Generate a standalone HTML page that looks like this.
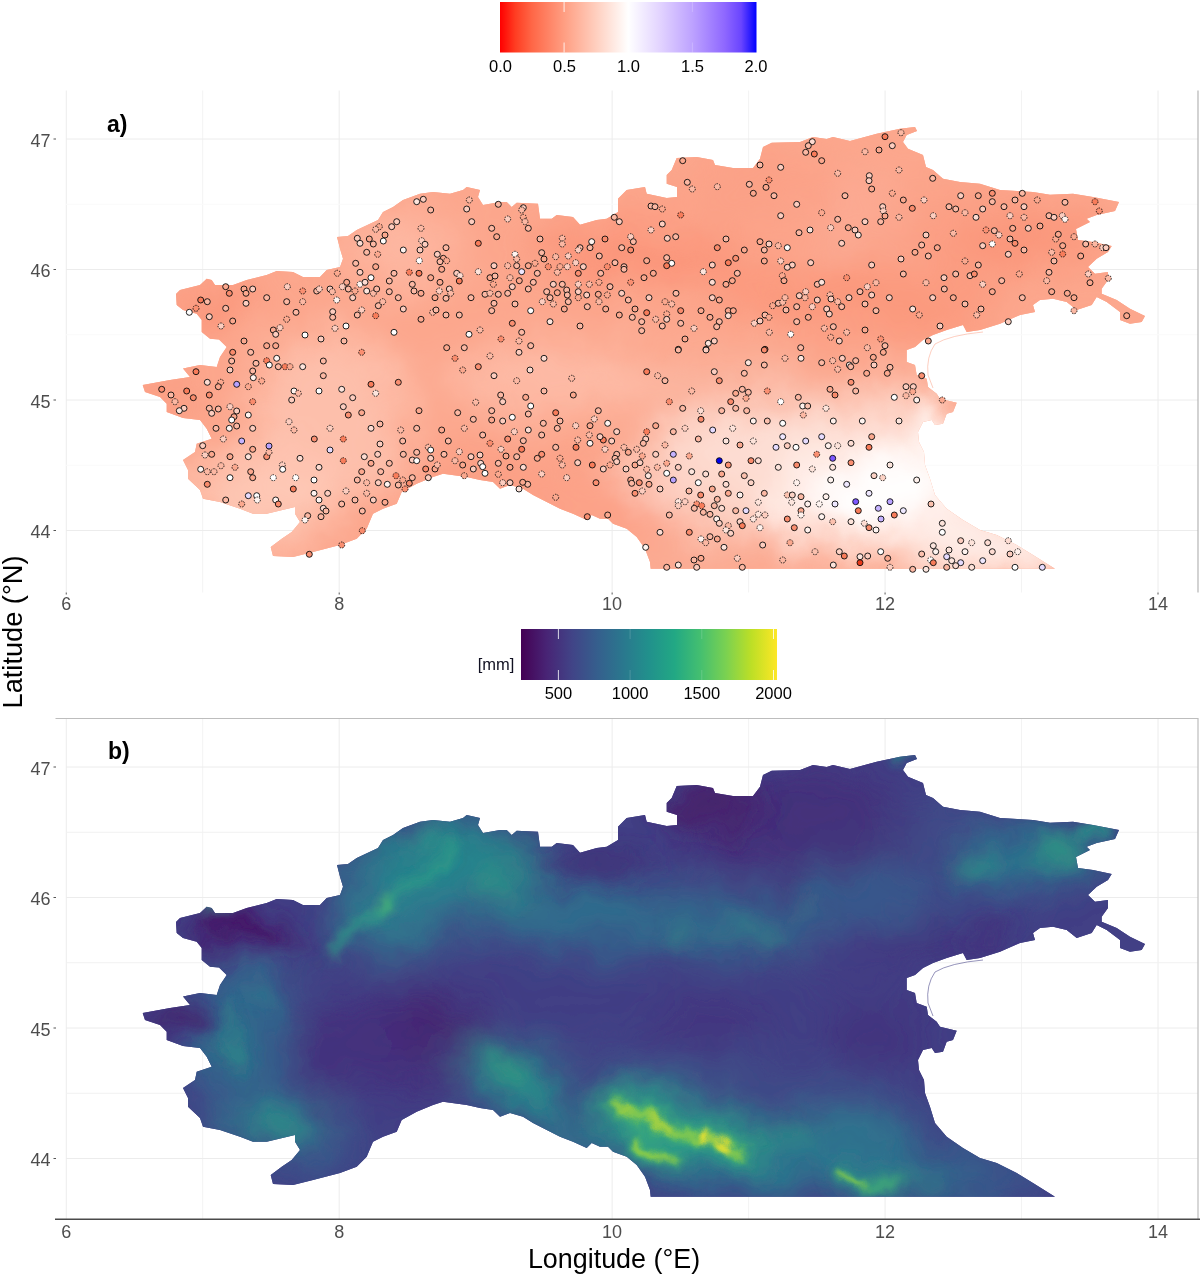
<!DOCTYPE html>
<html lang="en"><head><meta charset="utf-8"><title>Figure</title>
<style>html,body{margin:0;padding:0;background:#fff}svg{display:block}text{font-family:"Liberation Sans",Arial,sans-serif}</style></head><body>
<svg width="1200" height="1274" viewBox="0 0 1200 1274">
<defs>
<linearGradient id="gA" x1="0" x2="1" y1="0" y2="0"><stop offset="0" stop-color="#ff0000"/><stop offset="0.06" stop-color="#ff3d22"/><stop offset="0.125" stop-color="#ff6747"/><stop offset="0.25" stop-color="#ff9e82"/><stop offset="0.375" stop-color="#ffcfbf"/><stop offset="0.5" stop-color="#ffffff"/><stop offset="0.625" stop-color="#e2d3ff"/><stop offset="0.75" stop-color="#bda2ff"/><stop offset="0.875" stop-color="#8f68ff"/><stop offset="0.94" stop-color="#6a45ff"/><stop offset="1" stop-color="#0000ff"/></linearGradient>
<linearGradient id="gB" x1="0" x2="1" y1="0" y2="0"><stop offset="0.0" stop-color="#440154"/><stop offset="0.1" stop-color="#482475"/><stop offset="0.2" stop-color="#414487"/><stop offset="0.3" stop-color="#355f8d"/><stop offset="0.4" stop-color="#2a788e"/><stop offset="0.5" stop-color="#21918c"/><stop offset="0.6" stop-color="#22a884"/><stop offset="0.7" stop-color="#44bf70"/><stop offset="0.8" stop-color="#7ad151"/><stop offset="0.9" stop-color="#bddf26"/><stop offset="1.0" stop-color="#fde725"/></linearGradient>
<clipPath id="cA"><polygon points="176.0,294.0 180.0,290.0 200.0,285.0 206.7,278.7 211.7,280.0 215.0,285.0 233.0,285.0 246.7,280.0 266.7,275.0 276.7,271.0 293.0,272.0 303.0,277.0 320.0,277.0 326.7,270.0 340.0,267.0 343.0,258.7 340.0,248.7 337.0,237.0 348.0,236.0 356.7,230.0 378.0,220.0 383.0,212.0 393.0,207.0 403.0,200.0 420.0,193.7 433.0,192.0 450.0,193.7 463.0,190.0 466.7,187.0 480.0,190.0 478.0,197.0 483.0,205.0 500.0,202.0 506.7,202.0 511.7,207.0 516.7,202.7 538.0,203.7 540.0,218.7 551.7,218.7 556.7,215.0 573.0,217.0 580.0,224.7 596.7,220.0 606.7,218.7 618.0,212.0 618.0,198.7 626.7,190.0 645.0,187.0 646.7,193.7 666.7,198.0 677.0,197.0 677.0,187.0 666.7,183.7 666.7,175.0 671.7,170.0 676.7,158.0 696.7,157.0 713.0,160.0 715.0,165.0 733.0,168.0 753.0,168.0 760.0,158.7 763.0,147.0 771.7,142.7 800.0,142.0 813.0,137.0 826.7,139.0 833.0,137.0 850.0,141.0 876.7,133.7 900.0,128.7 915.0,127.0 917.0,131.0 906.7,135.0 903.0,142.0 908.0,148.7 923.0,155.0 926.0,167.0 933.0,170.0 943.0,178.7 960.0,182.0 980.0,183.7 1000.0,190.0 1033.0,192.0 1050.0,194.7 1073.0,193.7 1093.0,197.0 1119.0,202.0 1115.0,211.0 1096.7,215.0 1086.7,218.7 1090.0,222.0 1076.0,229.0 1078.0,240.0 1093.0,242.0 1111.7,246.0 1108.0,252.0 1096.7,258.7 1088.0,267.0 1095.0,273.7 1108.0,272.0 1108.0,280.0 1101.7,288.7 1101.7,293.7 1116.7,300.0 1130.0,308.7 1145.0,316.0 1141.7,322.0 1130.0,323.7 1120.0,320.0 1120.0,312.0 1106.7,302.0 1096.7,297.0 1091.7,305.0 1076.7,310.0 1066.7,302.0 1053.0,298.7 1040.0,300.0 1033.0,305.0 1035.0,312.0 1020.0,315.0 1000.0,323.7 980.0,330.0 966.7,332.0 963.0,325.0 946.7,330.0 933.0,335.0 923.0,340.0 915.0,347.0 906.7,350.0 906.7,362.0 915.0,365.0 916.7,375.0 926.7,378.7 928.0,387.0 936.7,393.7 940.0,398.7 956.7,402.7 953.0,412.0 946.7,413.7 943.0,423.7 935.0,425.0 931.7,420.0 923.0,422.0 918.0,432.0 919.0,442.0 924.0,452.0 925.0,465.0 930.0,478.7 935.0,495.0 946.7,508.7 963.0,520.0 980.0,530.0 996.7,535.0 1016.7,545.0 1033.0,555.0 1055.0,568.7 650.7,568.7 650.0,562.0 645.0,548.7 636.7,537.0 626.7,528.7 613.0,523.7 608.0,518.7 600.0,518.7 591.7,515.0 586.7,520.0 573.0,513.7 560.0,508.7 546.7,502.0 533.0,495.0 523.0,488.7 510.0,485.0 500.0,488.7 493.0,482.0 480.0,480.0 466.7,477.0 443.0,473.7 433.0,477.0 416.7,483.7 401.7,492.0 396.7,503.7 383.0,508.7 373.0,513.7 366.7,528.7 356.7,538.7 340.0,545.0 313.0,552.0 293.0,557.0 273.0,556.0 270.7,547.0 281.7,538.7 291.7,532.0 300.0,522.0 295.0,513.7 295.0,507.0 266.7,513.7 253.0,513.7 240.0,508.7 220.0,502.0 203.0,498.7 200.0,490.0 188.0,478.7 188.0,470.0 183.0,460.0 195.0,452.0 196.7,443.7 211.7,438.7 206.7,428.7 200.0,420.0 183.0,418.0 166.7,412.0 166.7,403.7 160.0,397.0 145.0,392.0 142.7,385.0 170.0,380.0 190.0,377.0 183.0,368.5 200.0,365.0 216.7,367.0 220.0,357.0 226.7,347.0 219.0,339.5 210.0,338.7 201.7,332.0 201.7,320.0 196.7,313.7 183.0,310.0 176.7,305.0"/></clipPath>
<clipPath id="cB"><polygon points="176.0,922.0 180.0,918.0 200.0,913.0 206.7,906.7 211.7,908.0 215.0,913.0 233.0,913.0 246.7,908.0 266.7,903.0 276.7,899.0 293.0,900.0 303.0,905.0 320.0,905.0 326.7,898.0 340.0,895.0 343.0,886.7 340.0,876.7 337.0,865.0 348.0,864.0 356.7,858.0 378.0,848.0 383.0,840.0 393.0,835.0 403.0,828.0 420.0,821.7 433.0,820.0 450.0,821.7 463.0,818.0 466.7,815.0 480.0,818.0 478.0,825.0 483.0,833.0 500.0,830.0 506.7,830.0 511.7,835.0 516.7,830.7 538.0,831.7 540.0,846.7 551.7,846.7 556.7,843.0 573.0,845.0 580.0,852.7 596.7,848.0 606.7,846.7 618.0,840.0 618.0,826.7 626.7,818.0 645.0,815.0 646.7,821.7 666.7,826.0 677.0,825.0 677.0,815.0 666.7,811.7 666.7,803.0 671.7,798.0 676.7,786.0 696.7,785.0 713.0,788.0 715.0,793.0 733.0,796.0 753.0,796.0 760.0,786.7 763.0,775.0 771.7,770.7 800.0,770.0 813.0,765.0 826.7,767.0 833.0,765.0 850.0,769.0 876.7,761.7 900.0,756.7 915.0,755.0 917.0,759.0 906.7,763.0 903.0,770.0 908.0,776.7 923.0,783.0 926.0,795.0 933.0,798.0 943.0,806.7 960.0,810.0 980.0,811.7 1000.0,818.0 1033.0,820.0 1050.0,822.7 1073.0,821.7 1093.0,825.0 1119.0,830.0 1115.0,839.0 1096.7,843.0 1086.7,846.7 1090.0,850.0 1076.0,857.0 1078.0,868.0 1093.0,870.0 1111.7,874.0 1108.0,880.0 1096.7,886.7 1088.0,895.0 1095.0,901.7 1108.0,900.0 1108.0,908.0 1101.7,916.7 1101.7,921.7 1116.7,928.0 1130.0,936.7 1145.0,944.0 1141.7,950.0 1130.0,951.7 1120.0,948.0 1120.0,940.0 1106.7,930.0 1096.7,925.0 1091.7,933.0 1076.7,938.0 1066.7,930.0 1053.0,926.7 1040.0,928.0 1033.0,933.0 1035.0,940.0 1020.0,943.0 1000.0,951.7 980.0,958.0 966.7,960.0 963.0,953.0 946.7,958.0 933.0,963.0 923.0,968.0 915.0,975.0 906.7,978.0 906.7,990.0 915.0,993.0 916.7,1003.0 926.7,1006.7 928.0,1015.0 936.7,1021.7 940.0,1026.7 956.7,1030.7 953.0,1040.0 946.7,1041.7 943.0,1051.7 935.0,1053.0 931.7,1048.0 923.0,1050.0 918.0,1060.0 919.0,1070.0 924.0,1080.0 925.0,1093.0 930.0,1106.7 935.0,1123.0 946.7,1136.7 963.0,1148.0 980.0,1158.0 996.7,1163.0 1016.7,1173.0 1033.0,1183.0 1055.0,1196.7 650.7,1196.7 650.0,1190.0 645.0,1176.7 636.7,1165.0 626.7,1156.7 613.0,1151.7 608.0,1146.7 600.0,1146.7 591.7,1143.0 586.7,1148.0 573.0,1141.7 560.0,1136.7 546.7,1130.0 533.0,1123.0 523.0,1116.7 510.0,1113.0 500.0,1116.7 493.0,1110.0 480.0,1108.0 466.7,1105.0 443.0,1101.7 433.0,1105.0 416.7,1111.7 401.7,1120.0 396.7,1131.7 383.0,1136.7 373.0,1141.7 366.7,1156.7 356.7,1166.7 340.0,1173.0 313.0,1180.0 293.0,1185.0 273.0,1184.0 270.7,1175.0 281.7,1166.7 291.7,1160.0 300.0,1150.0 295.0,1141.7 295.0,1135.0 266.7,1141.7 253.0,1141.7 240.0,1136.7 220.0,1130.0 203.0,1126.7 200.0,1118.0 188.0,1106.7 188.0,1098.0 183.0,1088.0 195.0,1080.0 196.7,1071.7 211.7,1066.7 206.7,1056.7 200.0,1048.0 183.0,1046.0 166.7,1040.0 166.7,1031.7 160.0,1025.0 145.0,1020.0 142.7,1013.0 170.0,1008.0 190.0,1005.0 183.0,996.5 200.0,993.0 216.7,995.0 220.0,985.0 226.7,975.0 219.0,967.5 210.0,966.7 201.7,960.0 201.7,948.0 196.7,941.7 183.0,938.0 176.7,933.0"/></clipPath>
<filter id="b6" x="-50%" y="-50%" width="200%" height="200%"><feGaussianBlur stdDeviation="6"/></filter>
<filter id="b12" x="-50%" y="-50%" width="200%" height="200%"><feGaussianBlur stdDeviation="12"/></filter>
<filter id="b3" x="-50%" y="-50%" width="200%" height="200%"><feGaussianBlur stdDeviation="3"/></filter>
<filter id="b20" x="-50%" y="-50%" width="200%" height="200%"><feGaussianBlur stdDeviation="20"/></filter>
<filter id="warp" x="0" y="0" width="100%" height="100%" filterUnits="userSpaceOnUse" primitiveUnits="userSpaceOnUse"><feTurbulence type="fractalNoise" baseFrequency="0.018" numOctaves="4" seed="5" result="n"/><feDisplacementMap in="SourceGraphic" in2="n" scale="38" xChannelSelector="R" yChannelSelector="G"/></filter>
</defs>
<rect width="1200" height="1274" fill="#fff"/>
<g stroke-width="1"><line x1="66.25" x2="66.25" y1="90.5" y2="592.5" stroke="#ececec"/><line x1="202.72" x2="202.72" y1="90.5" y2="592.5" stroke="#f3f3f3"/><line x1="339.19" x2="339.19" y1="90.5" y2="592.5" stroke="#ececec"/><line x1="612.13" x2="612.13" y1="90.5" y2="592.5" stroke="#ececec"/><line x1="748.60" x2="748.60" y1="90.5" y2="592.5" stroke="#f3f3f3"/><line x1="885.07" x2="885.07" y1="90.5" y2="592.5" stroke="#ececec"/><line x1="1021.54" x2="1021.54" y1="90.5" y2="592.5" stroke="#f3f3f3"/><line x1="1158.01" x2="1158.01" y1="90.5" y2="592.5" stroke="#ececec"/><line x1="66" x2="1198" y1="139.00" y2="139.00" stroke="#ececec"/><line x1="66" x2="1198" y1="204.25" y2="204.25" stroke="#fafafa"/><line x1="66" x2="1198" y1="269.50" y2="269.50" stroke="#ececec"/><line x1="66" x2="1198" y1="334.75" y2="334.75" stroke="#fafafa"/><line x1="66" x2="1198" y1="400.00" y2="400.00" stroke="#ececec"/><line x1="66" x2="1198" y1="465.25" y2="465.25" stroke="#fafafa"/><line x1="66" x2="1198" y1="530.50" y2="530.50" stroke="#ececec"/></g>
<g stroke-width="1"><line x1="66.25" x2="66.25" y1="718.5" y2="1219" stroke="#ececec"/><line x1="202.72" x2="202.72" y1="718.5" y2="1219" stroke="#f3f3f3"/><line x1="339.19" x2="339.19" y1="718.5" y2="1219" stroke="#ececec"/><line x1="612.13" x2="612.13" y1="718.5" y2="1219" stroke="#ececec"/><line x1="748.60" x2="748.60" y1="718.5" y2="1219" stroke="#f3f3f3"/><line x1="885.07" x2="885.07" y1="718.5" y2="1219" stroke="#ececec"/><line x1="1021.54" x2="1021.54" y1="718.5" y2="1219" stroke="#f3f3f3"/><line x1="1158.01" x2="1158.01" y1="718.5" y2="1219" stroke="#ececec"/><line x1="66" x2="1198" y1="767.00" y2="767.00" stroke="#ececec"/><line x1="66" x2="1198" y1="832.25" y2="832.25" stroke="#f1f1f1"/><line x1="66" x2="1198" y1="897.50" y2="897.50" stroke="#ececec"/><line x1="66" x2="1198" y1="962.75" y2="962.75" stroke="#f1f1f1"/><line x1="66" x2="1198" y1="1028.00" y2="1028.00" stroke="#ececec"/><line x1="66" x2="1198" y1="1093.25" y2="1093.25" stroke="#f1f1f1"/><line x1="66" x2="1198" y1="1158.50" y2="1158.50" stroke="#ececec"/></g>
<g clip-path="url(#cA)">
<rect x="100" y="90" width="1100" height="520" fill="#fca78d"/>
<g filter="url(#warp)">
<rect x="60" y="60" width="1180" height="580" fill="#fca78d"/>
<g filter="url(#b20)">
<ellipse cx="640" cy="255" rx="110" ry="30" transform="rotate(5 640 255)" fill="#fb9074" opacity="0.8"/>
<ellipse cx="860" cy="300" rx="140" ry="35" transform="rotate(5 860 300)" fill="#fb9377" opacity="0.75"/>
<ellipse cx="1000" cy="230" rx="120" ry="50" transform="rotate(0 1000 230)" fill="#fb9a7f" opacity="0.5"/>
<ellipse cx="1015" cy="245" rx="70" ry="20" transform="rotate(-8 1015 245)" fill="#fb8d70" opacity="0.7"/>
<ellipse cx="850" cy="210" rx="50" ry="40" transform="rotate(0 850 210)" fill="#fcae97" opacity="0.6"/>
<ellipse cx="760" cy="190" rx="90" ry="40" transform="rotate(0 760 190)" fill="#fb9c81" opacity="0.5"/>
<ellipse cx="210" cy="305" rx="45" ry="18" transform="rotate(0 210 305)" fill="#fa8c6f" opacity="0.8"/>
<ellipse cx="400" cy="250" rx="60" ry="40" transform="rotate(0 400 250)" fill="#fdbda9" opacity="0.7"/>
<ellipse cx="330" cy="420" rx="80" ry="90" transform="rotate(0 330 420)" fill="#fdc9b7" opacity="0.72"/>
<ellipse cx="260" cy="500" rx="70" ry="50" transform="rotate(0 260 500)" fill="#fdcfbe" opacity="0.75"/>
<ellipse cx="560" cy="378" rx="120" ry="35" transform="rotate(0 560 378)" fill="#fdc6b3" opacity="0.66"/>
<ellipse cx="600" cy="510" rx="90" ry="40" transform="rotate(0 600 510)" fill="#fb9f85" opacity="0.6"/>
<ellipse cx="480" cy="480" rx="90" ry="25" transform="rotate(0 480 480)" fill="#fb9b80" opacity="0.6"/>
<ellipse cx="160" cy="395" rx="30" ry="15" transform="rotate(0 160 395)" fill="#fa9176" opacity="0.7"/>
<ellipse cx="740" cy="385" rx="100" ry="28" transform="rotate(0 740 385)" fill="#fcbeaa" opacity="0.5"/>
<ellipse cx="800" cy="470" rx="170" ry="70" transform="rotate(0 800 470)" fill="#fdd9ce" opacity="0.9"/>
<ellipse cx="895" cy="425" rx="50" ry="45" transform="rotate(0 895 425)" fill="#fddfd6" opacity="0.7"/>
<ellipse cx="880" cy="490" rx="120" ry="55" transform="rotate(-10 880 490)" fill="#fff1ec" opacity="0.95"/>
<ellipse cx="990" cy="545" rx="95" ry="38" transform="rotate(0 990 545)" fill="#feece6" opacity="1"/>
<ellipse cx="760" cy="440" rx="70" ry="35" transform="rotate(0 760 440)" fill="#fee4db" opacity="0.7"/>
<ellipse cx="700" cy="565" rx="120" ry="14" transform="rotate(0 700 565)" fill="#fbb09a" opacity="0.8"/>
</g>
<g filter="url(#b12)">
<ellipse cx="880" cy="490" rx="60" ry="30" transform="rotate(-10 880 490)" fill="#ffffff" opacity="0.9"/>
<ellipse cx="930" cy="440" rx="20" ry="50" transform="rotate(0 930 440)" fill="#fff6f3" opacity="0.8"/>
</g>
</g>
</g>
<g clip-path="url(#cB)">
<rect x="100" y="700" width="1100" height="560" fill="#423f85"/>
<g filter="url(#warp)">
<rect x="60" y="660" width="1180" height="640" fill="#423f85"/>
<g filter="url(#b20)">
<ellipse cx="420" cy="882" rx="95" ry="58" transform="rotate(-35 420 882)" fill="#2a7f8e" opacity="0.95"/>
<ellipse cx="440" cy="855" rx="60" ry="30" transform="rotate(-10 440 855)" fill="#28878d" opacity="0.8"/>
<ellipse cx="630" cy="918" rx="160" ry="32" transform="rotate(0 630 918)" fill="#33668d" opacity="0.9"/>
<ellipse cx="585" cy="915" rx="70" ry="35" transform="rotate(0 585 915)" fill="#2f728e" opacity="0.8"/>
<ellipse cx="725" cy="930" rx="100" ry="26" transform="rotate(0 725 930)" fill="#316b8d" opacity="0.85"/>
<ellipse cx="510" cy="870" rx="35" ry="35" transform="rotate(0 510 870)" fill="#2a8a8c" opacity="0.8"/>
<ellipse cx="245" cy="1000" rx="55" ry="40" transform="rotate(0 245 1000)" fill="#30698e" opacity="0.9"/>
<ellipse cx="250" cy="1075" rx="60" ry="55" transform="rotate(0 250 1075)" fill="#34628d" opacity="0.85"/>
<ellipse cx="232" cy="1057" rx="32" ry="20" transform="rotate(0 232 1057)" fill="#2c788e" opacity="0.85"/>
<ellipse cx="225" cy="1095" rx="45" ry="22" transform="rotate(0 225 1095)" fill="#3b548b" opacity="0.8"/>
<ellipse cx="275" cy="1122" rx="60" ry="20" transform="rotate(0 275 1122)" fill="#2b858d" opacity="0.9"/>
<ellipse cx="320" cy="1160" rx="50" ry="25" transform="rotate(0 320 1160)" fill="#3a588c" opacity="0.8"/>
<ellipse cx="255" cy="962" rx="50" ry="14" transform="rotate(0 255 962)" fill="#3e5289" opacity="0.8"/>
<ellipse cx="390" cy="1042" rx="105" ry="48" transform="rotate(-8 390 1042)" fill="#45307c" opacity="0.95"/>
<ellipse cx="790" cy="832" rx="110" ry="45" transform="rotate(0 790 832)" fill="#442d78" opacity="0.85"/>
<ellipse cx="820" cy="800" rx="70" ry="38" transform="rotate(0 820 800)" fill="#44307b" opacity="0.8"/>
<ellipse cx="950" cy="832" rx="55" ry="28" transform="rotate(0 950 832)" fill="#3d4f8a" opacity="0.8"/>
<ellipse cx="1035" cy="855" rx="80" ry="30" transform="rotate(-5 1035 855)" fill="#2d748e" opacity="0.95"/>
<ellipse cx="1075" cy="845" rx="35" ry="22" transform="rotate(0 1075 845)" fill="#2a838d" opacity="0.7"/>
<ellipse cx="865" cy="893" rx="70" ry="35" transform="rotate(0 865 893)" fill="#35608d" opacity="0.8"/>
<ellipse cx="965" cy="918" rx="70" ry="35" transform="rotate(0 965 918)" fill="#3d4f8a" opacity="0.7"/>
<ellipse cx="860" cy="965" rx="60" ry="35" transform="rotate(0 860 965)" fill="#423a83" opacity="0.7"/>
<ellipse cx="877" cy="1037" rx="50" ry="30" transform="rotate(0 877 1037)" fill="#452f7b" opacity="0.7"/>
<ellipse cx="713" cy="1023" rx="60" ry="25" transform="rotate(0 713 1023)" fill="#452f7b" opacity="0.6"/>
<ellipse cx="730" cy="1078" rx="170" ry="18" transform="rotate(5 730 1078)" fill="#3d4f8a" opacity="0.8"/>
<ellipse cx="870" cy="1110" rx="70" ry="18" transform="rotate(0 870 1110)" fill="#3c4f8a" opacity="0.8"/>
<ellipse cx="515" cy="1080" rx="55" ry="32" transform="rotate(20 515 1080)" fill="#278a8c" opacity="0.95"/>
<ellipse cx="565" cy="1135" rx="55" ry="22" transform="rotate(25 565 1135)" fill="#2b7a8e" opacity="0.9"/>
<ellipse cx="685" cy="1135" rx="95" ry="40" transform="rotate(18 685 1135)" fill="#2a8a8c" opacity="0.9"/>
<ellipse cx="735" cy="1180" rx="90" ry="18" transform="rotate(0 735 1180)" fill="#31688e" opacity="0.8"/>
<ellipse cx="835" cy="1152" rx="90" ry="42" transform="rotate(0 835 1152)" fill="#2a7d8e" opacity="0.95"/>
<ellipse cx="900" cy="1170" rx="110" ry="30" transform="rotate(12 900 1170)" fill="#2f6e8e" opacity="0.85"/>
<ellipse cx="1000" cy="1170" rx="50" ry="25" transform="rotate(30 1000 1170)" fill="#38588c" opacity="0.8"/>
<ellipse cx="433" cy="1024" rx="40" ry="30" transform="rotate(0 433 1024)" fill="#46246f" opacity="0.9"/>
<ellipse cx="940" cy="938" rx="80" ry="14" transform="rotate(-3 940 938)" fill="#442f7b" opacity="0.9"/>
</g>
<g filter="url(#b12)">
<ellipse cx="712" cy="808" rx="50" ry="24" transform="rotate(0 712 808)" fill="#46226c" opacity="0.95"/>
<ellipse cx="598" cy="866" rx="58" ry="12" transform="rotate(0 598 866)" fill="#402d77" opacity="0.9"/>
<ellipse cx="985" cy="938" rx="30" ry="10" transform="rotate(0 985 938)" fill="#45297a" opacity="0.8"/>
<ellipse cx="175" cy="1022" rx="35" ry="14" transform="rotate(0 175 1022)" fill="#45236c" opacity="0.95"/>
<ellipse cx="243" cy="933" rx="62" ry="17" transform="rotate(3 243 933)" fill="#46256f" opacity="0.95"/>
<ellipse cx="425" cy="836" rx="16" ry="14" transform="rotate(0 425 836)" fill="#2f9a8a" opacity="0.8"/>
<ellipse cx="493" cy="883" rx="16" ry="10" transform="rotate(0 493 883)" fill="#2fa083" opacity="0.85"/>
<ellipse cx="680" cy="937" rx="16" ry="8" transform="rotate(0 680 937)" fill="#2fa083" opacity="0.7"/>
<ellipse cx="733" cy="927" rx="14" ry="8" transform="rotate(-30 733 927)" fill="#2fa083" opacity="0.7"/>
<ellipse cx="767" cy="937" rx="14" ry="8" transform="rotate(-30 767 937)" fill="#2fa083" opacity="0.8"/>
<ellipse cx="808" cy="903" rx="12" ry="5" transform="rotate(-10 808 903)" fill="#2fa083" opacity="0.7"/>
<ellipse cx="977" cy="863" rx="32" ry="7" transform="rotate(-12 977 863)" fill="#27a884" opacity="0.95"/>
<ellipse cx="1060" cy="850" rx="28" ry="8" transform="rotate(-8 1060 850)" fill="#2fb07c" opacity="0.95"/>
<ellipse cx="1090" cy="833" rx="15" ry="5" transform="rotate(0 1090 833)" fill="#2a9a88" opacity="0.8"/>
<ellipse cx="503" cy="1067" rx="14" ry="11" transform="rotate(0 503 1067)" fill="#2fb07c" opacity="0.95"/>
<ellipse cx="535" cy="1090" rx="14" ry="8" transform="rotate(30 535 1090)" fill="#27a085" opacity="0.7"/>
<ellipse cx="280" cy="1123" rx="20" ry="8" transform="rotate(0 280 1123)" fill="#2aa585" opacity="0.9"/>
<ellipse cx="233" cy="1057" rx="12" ry="8" transform="rotate(0 233 1057)" fill="#2aa585" opacity="0.7"/>
<ellipse cx="260" cy="1000" rx="12" ry="10" transform="rotate(0 260 1000)" fill="#2a8f8b" opacity="0.7"/>
<ellipse cx="790" cy="1137" rx="15" ry="6" transform="rotate(-20 790 1137)" fill="#35b779" opacity="0.7"/>
<ellipse cx="893" cy="1187" rx="15" ry="5" transform="rotate(0 893 1187)" fill="#35b779" opacity="0.7"/>
<ellipse cx="923" cy="1183" rx="10" ry="6" transform="rotate(-40 923 1183)" fill="#35b779" opacity="0.7"/>
<path d="M614 1104 L637 1112.5 L665 1121 L682 1129.5 L696 1138 L709 1135 L724.5 1142 L739 1148 L750 1153.6" fill="none" stroke="#2f9f86" stroke-width="34" stroke-linecap="round" stroke-linejoin="round" opacity="0.9"/>
<path d="M634 1135 L644 1143 L655 1151 L664 1157" fill="none" stroke="#2f9f86" stroke-width="26" stroke-linecap="round" stroke-linejoin="round" opacity="0.9"/>
<path d="M843.5 1173.4 L863 1180.5 L877.5 1184.8 L897 1186" fill="none" stroke="#2a9a88" stroke-width="22" stroke-linecap="round" stroke-linejoin="round" opacity="0.8"/>
</g>
<g filter="url(#b6)">
<ellipse cx="240" cy="932" rx="40" ry="7" transform="rotate(3 240 932)" fill="#421a66" opacity="0.9"/>
<ellipse cx="383" cy="907" rx="11" ry="9" transform="rotate(-40 383 907)" fill="#62c765" opacity="0.85"/>
<ellipse cx="206" cy="909" rx="9" ry="6" transform="rotate(0 206 909)" fill="#35b779" opacity="0.9"/>
<ellipse cx="908" cy="758" rx="10" ry="5" transform="rotate(-15 908 758)" fill="#1f9e89" opacity="0.9"/>
<ellipse cx="1100" cy="832" rx="14" ry="6" transform="rotate(10 1100 832)" fill="#25988a" opacity="0.8"/>
<path d="M327 955 L360 925 L385 907 L420 880 L449 845" fill="none" stroke="#2f9f86" stroke-width="12" stroke-linecap="round" stroke-linejoin="round" opacity="0.7"/>
<path d="M225 1010 L232 1040 L236 1065" fill="none" stroke="#2c928a" stroke-width="10" stroke-linecap="round" stroke-linejoin="round" opacity="0.5"/>
<path d="M614 1104 L637 1112.5 L665 1121 L682 1129.5 L696 1138 L709 1135 L724.5 1142 L739 1148 L750 1153.6" fill="none" stroke="#5ec962" stroke-width="9.5" stroke-linecap="round" stroke-linejoin="round" opacity="0.95"/>
<path d="M634 1135 L644 1143 L655 1151 L664 1157" fill="none" stroke="#5ec962" stroke-width="10" stroke-linecap="round" stroke-linejoin="round" opacity="0.95"/>
<path d="M843.5 1173.4 L863 1180.5 L877.5 1184.8 L897 1186" fill="none" stroke="#4ac16d" stroke-width="8" stroke-linecap="round" stroke-linejoin="round" opacity="0.9"/>
</g>
<g filter="url(#b3)">
<path d="M614 1104 L637 1112.5 L665 1121 L682 1129.5 L696 1138 L709 1135 L724.5 1142 L739 1148 L750 1153.6" fill="none" stroke="#c2df23" stroke-width="4" stroke-linecap="round" stroke-linejoin="round" opacity="0.9"/>
<path d="M634 1135 L644 1143 L655 1151 L664 1157" fill="none" stroke="#c2df23" stroke-width="4.5" stroke-linecap="round" stroke-linejoin="round" opacity="0.9"/>
<path d="M702 1137 L709 1135.5" fill="none" stroke="#fde725" stroke-width="8" stroke-linecap="round" stroke-linejoin="round" opacity="1"/>
<path d="M721 1141 L729 1144" fill="none" stroke="#fde725" stroke-width="8" stroke-linecap="round" stroke-linejoin="round" opacity="1"/>
<path d="M622 1107 L630 1110" fill="none" stroke="#e5e419" stroke-width="4" stroke-linecap="round" stroke-linejoin="round" opacity="0.9"/>
<path d="M655 1118 L668 1122" fill="none" stroke="#e5e419" stroke-width="5" stroke-linecap="round" stroke-linejoin="round" opacity="0.9"/>
<path d="M843.5 1173.4 L863 1180.5" fill="none" stroke="#b5de2b" stroke-width="3.5" stroke-linecap="round" stroke-linejoin="round" opacity="0.9"/>
</g>
</g>
</g>
<path d="M983 960 Q950 963 935 972 Q926 985 928 1003 L933 1016" fill="none" stroke="#423f85" stroke-width="0.7" opacity="0.8"/>
<path d="M983 960 Q950 963 935 972 Q926 985 928 1003 L933 1016" fill="none" stroke="#fca78d" stroke-width="0.7" opacity="0.8" transform="translate(0 -628)"/>
<g stroke="#0a0a0a" stroke-width="0.9">
<circle cx="416.7" cy="201.7" r="3" fill="#fde5dd"/>
<circle cx="423.3" cy="199.3" r="3" fill="#fdcdbf"/>
<circle cx="430.7" cy="210.0" r="3" fill="#fcb8a3"/>
<circle cx="469.3" cy="200.0" r="3" fill="#fcb8a3" stroke-dasharray="1.5 1.1"/>
<circle cx="466.7" cy="209.0" r="3" fill="#fdcdbf"/>
<circle cx="498.3" cy="204.3" r="3" fill="#fcb8a3"/>
<circle cx="471.7" cy="221.7" r="3" fill="#fdcdbf"/>
<circle cx="421.0" cy="228.3" r="3" fill="#fcb8a3" stroke-dasharray="1.5 1.1"/>
<circle cx="491.7" cy="228.3" r="3" fill="#fcb8a3"/>
<circle cx="496.7" cy="236.7" r="3" fill="#fba88e"/>
<circle cx="478.3" cy="243.3" r="3" fill="#f87c5a"/>
<circle cx="396.7" cy="221.7" r="3" fill="#fdcdbf"/>
<circle cx="391.7" cy="226.7" r="3" fill="#fdcdbf"/>
<circle cx="379.3" cy="226.7" r="3" fill="#fba88e" stroke-dasharray="1.5 1.1"/>
<circle cx="375.7" cy="229.3" r="3" fill="#fcb8a3" stroke-dasharray="1.5 1.1"/>
<circle cx="385.0" cy="235.0" r="3" fill="#fba88e"/>
<circle cx="383.3" cy="241.0" r="3" fill="#ffffff"/>
<circle cx="357.3" cy="238.3" r="3" fill="#fdcdbf"/>
<circle cx="360.0" cy="243.3" r="3" fill="#fddcd2"/>
<circle cx="369.3" cy="239.0" r="3" fill="#fba88e"/>
<circle cx="373.3" cy="244.0" r="3" fill="#fcb8a3"/>
<circle cx="366.7" cy="252.3" r="3" fill="#fcb8a3"/>
<circle cx="377.7" cy="254.3" r="3" fill="#fba88e" stroke-dasharray="1.5 1.1"/>
<circle cx="403.3" cy="250.0" r="3" fill="#fff4f0"/>
<circle cx="421.7" cy="240.7" r="3" fill="#fdcdbf" stroke-dasharray="1.5 1.1"/>
<circle cx="425.0" cy="244.3" r="3" fill="#fdcdbf"/>
<circle cx="420.0" cy="250.0" r="3" fill="#fdcdbf"/>
<circle cx="446.0" cy="247.7" r="3" fill="#fcb8a3"/>
<circle cx="437.3" cy="254.3" r="3" fill="#fdcdbf"/>
<circle cx="443.3" cy="258.3" r="3" fill="#fba88e"/>
<circle cx="446.7" cy="260.7" r="3" fill="#fba88e" stroke-dasharray="1.5 1.1"/>
<circle cx="440.0" cy="261.7" r="3" fill="#fcb8a3"/>
<circle cx="419.3" cy="260.7" r="3" fill="#ffffff" stroke-dasharray="1.5 1.1"/>
<circle cx="355.7" cy="263.3" r="3" fill="#fcb8a3"/>
<circle cx="375.7" cy="266.7" r="3" fill="#fba88e"/>
<circle cx="360.0" cy="272.3" r="3" fill="#fdcdbf"/>
<circle cx="371.0" cy="277.7" r="3" fill="#ffffff"/>
<circle cx="394.0" cy="273.3" r="3" fill="#fcb8a3"/>
<circle cx="409.3" cy="272.3" r="3" fill="#f87c5a" stroke-dasharray="1.5 1.1"/>
<circle cx="419.0" cy="273.3" r="3" fill="#f87c5a"/>
<circle cx="430.7" cy="277.7" r="3" fill="#fba88e"/>
<circle cx="441.7" cy="269.3" r="3" fill="#fba88e"/>
<circle cx="456.7" cy="273.3" r="3" fill="#fdcdbf"/>
<circle cx="460.0" cy="275.7" r="3" fill="#fddcd2" stroke-dasharray="1.5 1.1"/>
<circle cx="459.3" cy="281.0" r="3" fill="#f87c5a"/>
<circle cx="478.3" cy="271.7" r="3" fill="#fde5dd" stroke-dasharray="1.5 1.1"/>
<circle cx="494.0" cy="265.7" r="3" fill="#fdcdbf"/>
<circle cx="490.0" cy="277.7" r="3" fill="#fba88e"/>
<circle cx="495.0" cy="276.0" r="3" fill="#fcb8a3"/>
<circle cx="493.3" cy="284.3" r="3" fill="#fba88e" stroke-dasharray="1.5 1.1"/>
<circle cx="337.3" cy="273.3" r="3" fill="#fba88e" stroke-dasharray="1.5 1.1"/>
<circle cx="346.7" cy="282.3" r="3" fill="#fba88e"/>
<circle cx="342.3" cy="286.7" r="3" fill="#fdcdbf" stroke-dasharray="1.5 1.1"/>
<circle cx="348.3" cy="289.0" r="3" fill="#fcb8a3"/>
<circle cx="355.0" cy="291.0" r="3" fill="#fba88e" stroke-dasharray="1.5 1.1"/>
<circle cx="352.7" cy="297.7" r="3" fill="#fdcdbf"/>
<circle cx="360.0" cy="284.3" r="3" fill="#fff4f0" stroke-dasharray="1.5 1.1"/>
<circle cx="365.0" cy="282.3" r="3" fill="#fddcd2"/>
<circle cx="366.7" cy="291.0" r="3" fill="#fde5dd"/>
<circle cx="373.3" cy="293.3" r="3" fill="#fcb8a3" stroke-dasharray="1.5 1.1"/>
<circle cx="376.7" cy="289.0" r="3" fill="#fcb8a3"/>
<circle cx="389.3" cy="281.0" r="3" fill="#fcb8a3"/>
<circle cx="389.3" cy="291.7" r="3" fill="#fcb8a3"/>
<circle cx="398.3" cy="297.7" r="3" fill="#fcb8a3"/>
<circle cx="412.3" cy="284.3" r="3" fill="#fcb8a3"/>
<circle cx="414.0" cy="291.0" r="3" fill="#fcb8a3"/>
<circle cx="421.0" cy="293.3" r="3" fill="#fba88e"/>
<circle cx="440.0" cy="282.3" r="3" fill="#fba88e"/>
<circle cx="439.3" cy="291.0" r="3" fill="#fdcdbf" stroke-dasharray="1.5 1.1"/>
<circle cx="449.3" cy="289.0" r="3" fill="#fdcdbf"/>
<circle cx="450.7" cy="293.3" r="3" fill="#fcb8a3" stroke-dasharray="1.5 1.1"/>
<circle cx="435.0" cy="297.7" r="3" fill="#fba88e"/>
<circle cx="446.0" cy="298.3" r="3" fill="#fcb8a3"/>
<circle cx="471.0" cy="297.7" r="3" fill="#fcb8a3"/>
<circle cx="485.0" cy="294.3" r="3" fill="#fcb8a3"/>
<circle cx="490.0" cy="293.3" r="3" fill="#fcb8a3" stroke-dasharray="1.5 1.1"/>
<circle cx="498.3" cy="294.3" r="3" fill="#fcb8a3"/>
<circle cx="494.0" cy="303.3" r="3" fill="#fcb8a3"/>
<circle cx="491.7" cy="310.7" r="3" fill="#fcb8a3"/>
<circle cx="330.0" cy="289.0" r="3" fill="#fdcdbf"/>
<circle cx="332.3" cy="291.7" r="3" fill="#fcb8a3" stroke-dasharray="1.5 1.1"/>
<circle cx="336.7" cy="300.0" r="3" fill="#fff4f0" stroke-dasharray="1.5 1.1"/>
<circle cx="316.7" cy="291.0" r="3" fill="#fcb8a3"/>
<circle cx="319.3" cy="289.0" r="3" fill="#fdcdbf" stroke-dasharray="1.5 1.1"/>
<circle cx="302.7" cy="291.0" r="3" fill="#fa8f71" stroke-dasharray="1.5 1.1"/>
<circle cx="287.3" cy="286.7" r="3" fill="#fdcdbf" stroke-dasharray="1.5 1.1"/>
<circle cx="286.7" cy="301.7" r="3" fill="#fcb8a3"/>
<circle cx="302.7" cy="301.7" r="3" fill="#fcb8a3" stroke-dasharray="1.5 1.1"/>
<circle cx="266.7" cy="297.7" r="3" fill="#fcb8a3"/>
<circle cx="252.7" cy="289.0" r="3" fill="#fdcdbf"/>
<circle cx="244.0" cy="289.0" r="3" fill="#fba88e"/>
<circle cx="246.0" cy="293.3" r="3" fill="#fba88e"/>
<circle cx="225.7" cy="286.7" r="3" fill="#fba88e"/>
<circle cx="229.3" cy="293.3" r="3" fill="#f98b6c"/>
<circle cx="246.0" cy="303.3" r="3" fill="#fdcdbf"/>
<circle cx="225.7" cy="308.3" r="3" fill="#fcb8a3"/>
<circle cx="200.7" cy="300.0" r="3" fill="#f87c5a"/>
<circle cx="207.3" cy="301.7" r="3" fill="#fcb8a3"/>
<circle cx="196.0" cy="308.3" r="3" fill="#fa8f71" stroke-dasharray="1.5 1.1"/>
<circle cx="189.3" cy="312.3" r="3" fill="#ffffff"/>
<circle cx="209.3" cy="316.7" r="3" fill="#fdcdbf"/>
<circle cx="232.7" cy="321.0" r="3" fill="#fba88e"/>
<circle cx="221.0" cy="326.0" r="3" fill="#fdcdbf" stroke-dasharray="1.5 1.1"/>
<circle cx="296.0" cy="312.3" r="3" fill="#fcb8a3"/>
<circle cx="286.7" cy="319.3" r="3" fill="#fba88e" stroke-dasharray="1.5 1.1"/>
<circle cx="332.7" cy="311.7" r="3" fill="#fdcdbf"/>
<circle cx="332.7" cy="317.3" r="3" fill="#fcb8a3"/>
<circle cx="361.7" cy="310.0" r="3" fill="#fdcdbf" stroke-dasharray="1.5 1.1"/>
<circle cx="357.3" cy="315.0" r="3" fill="#fcb8a3"/>
<circle cx="375.7" cy="315.7" r="3" fill="#f87c5a" stroke-dasharray="1.5 1.1"/>
<circle cx="378.3" cy="305.7" r="3" fill="#fcb8a3"/>
<circle cx="382.7" cy="301.7" r="3" fill="#fcb8a3" stroke-dasharray="1.5 1.1"/>
<circle cx="403.3" cy="309.0" r="3" fill="#fdcdbf"/>
<circle cx="421.0" cy="319.3" r="3" fill="#fba88e"/>
<circle cx="432.7" cy="312.3" r="3" fill="#fcb8a3" stroke-dasharray="1.5 1.1"/>
<circle cx="436.0" cy="310.0" r="3" fill="#fcb8a3"/>
<circle cx="446.0" cy="315.0" r="3" fill="#fcb8a3"/>
<circle cx="459.3" cy="315.0" r="3" fill="#fcb8a3"/>
<circle cx="280.0" cy="327.7" r="3" fill="#fdcdbf" stroke-dasharray="1.5 1.1"/>
<circle cx="273.3" cy="330.0" r="3" fill="#fba88e"/>
<circle cx="275.7" cy="334.3" r="3" fill="#fdcdbf"/>
<circle cx="305.0" cy="335.0" r="3" fill="#ffffff"/>
<circle cx="321.0" cy="339.0" r="3" fill="#fdcdbf"/>
<circle cx="335.0" cy="328.3" r="3" fill="#fdcdbf" stroke-dasharray="1.5 1.1"/>
<circle cx="346.0" cy="326.0" r="3" fill="#ffffff"/>
<circle cx="344.0" cy="341.0" r="3" fill="#fcb8a3"/>
<circle cx="394.0" cy="332.3" r="3" fill="#ffffff"/>
<circle cx="469.0" cy="334.3" r="3" fill="#ffffff"/>
<circle cx="480.0" cy="330.0" r="3" fill="#fcb8a3" stroke-dasharray="1.5 1.1"/>
<circle cx="244.0" cy="341.0" r="3" fill="#fba88e"/>
<circle cx="266.7" cy="345.7" r="3" fill="#fba88e"/>
<circle cx="275.7" cy="345.7" r="3" fill="#fba88e"/>
<circle cx="446.7" cy="347.7" r="3" fill="#fba88e"/>
<circle cx="464.3" cy="347.7" r="3" fill="#fcb8a3"/>
<circle cx="232.7" cy="352.3" r="3" fill="#f98b6c"/>
<circle cx="250.7" cy="352.3" r="3" fill="#fcb8a3"/>
<circle cx="231.7" cy="361.0" r="3" fill="#fcb8a3"/>
<circle cx="256.0" cy="363.3" r="3" fill="#fcb8a3"/>
<circle cx="266.7" cy="360.7" r="3" fill="#f87c5a" stroke-dasharray="1.5 1.1"/>
<circle cx="269.3" cy="365.0" r="3" fill="#ffffff"/>
<circle cx="276.7" cy="358.3" r="3" fill="#fff4f0"/>
<circle cx="278.3" cy="366.7" r="3" fill="#fcb8a3"/>
<circle cx="285.0" cy="366.7" r="3" fill="#f87c5a" stroke-dasharray="1.5 1.1"/>
<circle cx="290.0" cy="366.7" r="3" fill="#fba88e" stroke-dasharray="1.5 1.1"/>
<circle cx="302.7" cy="366.7" r="3" fill="#fde5dd"/>
<circle cx="323.3" cy="361.0" r="3" fill="#fcb8a3"/>
<circle cx="323.3" cy="375.7" r="3" fill="#fcb8a3"/>
<circle cx="361.7" cy="352.3" r="3" fill="#fa8f71" stroke-dasharray="1.5 1.1"/>
<circle cx="455.0" cy="358.3" r="3" fill="#f98b6c" stroke-dasharray="1.5 1.1"/>
<circle cx="462.7" cy="370.0" r="3" fill="#fba88e" stroke-dasharray="1.5 1.1"/>
<circle cx="478.3" cy="366.7" r="3" fill="#fa8f71"/>
<circle cx="490.0" cy="356.0" r="3" fill="#fcb8a3" stroke-dasharray="1.5 1.1"/>
<circle cx="494.0" cy="375.7" r="3" fill="#fdcdbf"/>
<circle cx="230.0" cy="370.0" r="3" fill="#fdcdbf"/>
<circle cx="252.7" cy="371.0" r="3" fill="#fcb8a3"/>
<circle cx="253.3" cy="377.7" r="3" fill="#fff4f0"/>
<circle cx="261.7" cy="381.0" r="3" fill="#fba88e" stroke-dasharray="1.5 1.1"/>
<circle cx="196.0" cy="371.7" r="3" fill="#f87c5a"/>
<circle cx="207.3" cy="382.3" r="3" fill="#fddcd2"/>
<circle cx="220.7" cy="382.3" r="3" fill="#fba88e" stroke-dasharray="1.5 1.1"/>
<circle cx="218.3" cy="386.7" r="3" fill="#fba88e"/>
<circle cx="236.7" cy="384.3" r="3" fill="#b9a2ff"/>
<circle cx="248.3" cy="386.7" r="3" fill="#fba88e" stroke-dasharray="1.5 1.1"/>
<circle cx="161.7" cy="389.3" r="3" fill="#fa8f71"/>
<circle cx="171.0" cy="395.0" r="3" fill="#fcb8a3"/>
<circle cx="175.0" cy="401.7" r="3" fill="#fcb8a3" stroke-dasharray="1.5 1.1"/>
<circle cx="186.7" cy="391.0" r="3" fill="#f87c5a"/>
<circle cx="193.3" cy="397.7" r="3" fill="#f98b6c"/>
<circle cx="209.3" cy="395.0" r="3" fill="#f98b6c"/>
<circle cx="184.0" cy="408.3" r="3" fill="#fdcdbf"/>
<circle cx="179.3" cy="410.7" r="3" fill="#fde5dd"/>
<circle cx="209.3" cy="408.3" r="3" fill="#fcb8a3"/>
<circle cx="218.3" cy="409.0" r="3" fill="#fcb8a3"/>
<circle cx="211.7" cy="413.3" r="3" fill="#fdcdbf"/>
<circle cx="230.0" cy="406.7" r="3" fill="#fdcdbf" stroke-dasharray="1.5 1.1"/>
<circle cx="236.7" cy="411.0" r="3" fill="#fdcdbf"/>
<circle cx="234.0" cy="416.7" r="3" fill="#fba88e"/>
<circle cx="231.7" cy="420.0" r="3" fill="#ffffff"/>
<circle cx="248.3" cy="415.0" r="3" fill="#fff4f0"/>
<circle cx="252.7" cy="401.7" r="3" fill="#f98b6c" stroke-dasharray="1.5 1.1"/>
<circle cx="294.0" cy="391.0" r="3" fill="#fff4f0"/>
<circle cx="298.3" cy="393.3" r="3" fill="#fcb8a3" stroke-dasharray="1.5 1.1"/>
<circle cx="291.7" cy="400.0" r="3" fill="#fdcdbf"/>
<circle cx="319.0" cy="391.0" r="3" fill="#ffffff"/>
<circle cx="341.7" cy="389.3" r="3" fill="#fde5dd"/>
<circle cx="352.7" cy="397.7" r="3" fill="#fdcdbf"/>
<circle cx="371.0" cy="384.3" r="3" fill="#f87c5a"/>
<circle cx="375.7" cy="393.3" r="3" fill="#fde5dd" stroke-dasharray="1.5 1.1"/>
<circle cx="398.3" cy="382.3" r="3" fill="#fa8f71"/>
<circle cx="343.3" cy="406.7" r="3" fill="#fdcdbf"/>
<circle cx="348.3" cy="415.0" r="3" fill="#fa8f71"/>
<circle cx="361.7" cy="412.7" r="3" fill="#fba88e"/>
<circle cx="419.0" cy="410.7" r="3" fill="#fba88e"/>
<circle cx="457.7" cy="412.7" r="3" fill="#fcb8a3"/>
<circle cx="475.7" cy="402.3" r="3" fill="#fcb8a3" stroke-dasharray="1.5 1.1"/>
<circle cx="491.7" cy="410.7" r="3" fill="#fcb8a3"/>
<circle cx="289.0" cy="421.7" r="3" fill="#fdcdbf" stroke-dasharray="1.5 1.1"/>
<circle cx="294.0" cy="430.0" r="3" fill="#fcb8a3" stroke-dasharray="1.5 1.1"/>
<circle cx="330.0" cy="428.3" r="3" fill="#fdcdbf" stroke-dasharray="1.5 1.1"/>
<circle cx="371.0" cy="428.3" r="3" fill="#fddcd2"/>
<circle cx="380.0" cy="424.0" r="3" fill="#fcb8a3"/>
<circle cx="400.7" cy="430.0" r="3" fill="#fcb8a3" stroke-dasharray="1.5 1.1"/>
<circle cx="416.7" cy="428.3" r="3" fill="#fcb8a3"/>
<circle cx="441.7" cy="430.0" r="3" fill="#fba88e"/>
<circle cx="464.3" cy="428.3" r="3" fill="#fcb8a3" stroke-dasharray="1.5 1.1"/>
<circle cx="473.3" cy="419.3" r="3" fill="#fcb8a3"/>
<circle cx="491.7" cy="420.0" r="3" fill="#fba88e"/>
<circle cx="482.7" cy="435.0" r="3" fill="#fcb8a3"/>
<circle cx="216.0" cy="428.3" r="3" fill="#fcb8a3"/>
<circle cx="229.3" cy="428.3" r="3" fill="#fff4f0"/>
<circle cx="236.7" cy="426.0" r="3" fill="#fcb8a3"/>
<circle cx="252.7" cy="428.3" r="3" fill="#fdcdbf"/>
<circle cx="223.3" cy="439.0" r="3" fill="#fdcdbf" stroke-dasharray="1.5 1.1"/>
<circle cx="241.7" cy="441.0" r="3" fill="#c6b3ff"/>
<circle cx="202.7" cy="445.7" r="3" fill="#fdcdbf"/>
<circle cx="205.0" cy="455.0" r="3" fill="#fdcdbf" stroke-dasharray="1.5 1.1"/>
<circle cx="211.7" cy="454.3" r="3" fill="#fba88e"/>
<circle cx="252.7" cy="449.3" r="3" fill="#fba88e"/>
<circle cx="248.3" cy="456.7" r="3" fill="#fde5dd"/>
<circle cx="230.0" cy="456.7" r="3" fill="#fba88e"/>
<circle cx="269.0" cy="446.0" r="3" fill="#b9a2ff"/>
<circle cx="266.7" cy="456.7" r="3" fill="#fa8f71"/>
<circle cx="269.0" cy="452.3" r="3" fill="#fcb8a3" stroke-dasharray="1.5 1.1"/>
<circle cx="314.3" cy="439.0" r="3" fill="#fa8f71"/>
<circle cx="343.3" cy="439.0" r="3" fill="#f87c5a" stroke-dasharray="1.5 1.1"/>
<circle cx="330.0" cy="450.0" r="3" fill="#e6dcff"/>
<circle cx="380.0" cy="444.0" r="3" fill="#fdcdbf"/>
<circle cx="402.7" cy="441.0" r="3" fill="#fcb8a3"/>
<circle cx="448.3" cy="441.0" r="3" fill="#fcb8a3"/>
<circle cx="490.0" cy="443.3" r="3" fill="#f98b6c" stroke-dasharray="1.5 1.1"/>
<circle cx="459.3" cy="451.7" r="3" fill="#fdcdbf" stroke-dasharray="1.5 1.1"/>
<circle cx="428.3" cy="447.3" r="3" fill="#fcb8a3" stroke-dasharray="1.5 1.1"/>
<circle cx="430.7" cy="450.0" r="3" fill="#ffffff"/>
<circle cx="416.7" cy="452.3" r="3" fill="#fcb8a3"/>
<circle cx="403.3" cy="454.3" r="3" fill="#fcb8a3"/>
<circle cx="377.7" cy="454.3" r="3" fill="#fdcdbf"/>
<circle cx="364.3" cy="456.7" r="3" fill="#fddcd2"/>
<circle cx="343.3" cy="460.7" r="3" fill="#f87c5a" stroke-dasharray="1.5 1.1"/>
<circle cx="300.0" cy="458.3" r="3" fill="#fddcd2"/>
<circle cx="319.0" cy="467.3" r="3" fill="#fddcd2"/>
<circle cx="200.7" cy="469.3" r="3" fill="#fff4f0"/>
<circle cx="207.3" cy="471.7" r="3" fill="#fcb8a3" stroke-dasharray="1.5 1.1"/>
<circle cx="214.0" cy="471.7" r="3" fill="#fcb8a3" stroke-dasharray="1.5 1.1"/>
<circle cx="221.0" cy="465.7" r="3" fill="#fcb8a3" stroke-dasharray="1.5 1.1"/>
<circle cx="235.0" cy="467.3" r="3" fill="#fba88e" stroke-dasharray="1.5 1.1"/>
<circle cx="230.0" cy="477.7" r="3" fill="#ffffff"/>
<circle cx="250.7" cy="471.7" r="3" fill="#fba88e"/>
<circle cx="252.7" cy="477.7" r="3" fill="#fba88e"/>
<circle cx="273.3" cy="477.7" r="3" fill="#ffffff" stroke-dasharray="1.5 1.1"/>
<circle cx="282.3" cy="465.0" r="3" fill="#fdcdbf" stroke-dasharray="1.5 1.1"/>
<circle cx="282.7" cy="469.3" r="3" fill="#ffffff"/>
<circle cx="295.7" cy="477.7" r="3" fill="#ffffff" stroke-dasharray="1.5 1.1"/>
<circle cx="314.0" cy="480.0" r="3" fill="#ffffff"/>
<circle cx="293.3" cy="489.0" r="3" fill="#f87c5a"/>
<circle cx="207.3" cy="484.3" r="3" fill="#f98b6c"/>
<circle cx="225.7" cy="500.0" r="3" fill="#fcb8a3"/>
<circle cx="241.7" cy="504.0" r="3" fill="#fba88e" stroke-dasharray="1.5 1.1"/>
<circle cx="248.3" cy="495.7" r="3" fill="#e6dcff"/>
<circle cx="256.7" cy="495.7" r="3" fill="#ffffff"/>
<circle cx="257.3" cy="500.0" r="3" fill="#fff4f0" stroke-dasharray="1.5 1.1"/>
<circle cx="275.7" cy="500.0" r="3" fill="#fff4f0"/>
<circle cx="278.3" cy="504.0" r="3" fill="#f98b6c"/>
<circle cx="314.0" cy="493.3" r="3" fill="#fff4f0"/>
<circle cx="319.0" cy="500.0" r="3" fill="#fff4f0"/>
<circle cx="327.7" cy="493.3" r="3" fill="#fdcdbf"/>
<circle cx="323.3" cy="508.3" r="3" fill="#fddcd2"/>
<circle cx="326.0" cy="511.0" r="3" fill="#fcb8a3"/>
<circle cx="341.7" cy="504.0" r="3" fill="#fcb8a3"/>
<circle cx="346.0" cy="491.0" r="3" fill="#fdcdbf" stroke-dasharray="1.5 1.1"/>
<circle cx="355.0" cy="500.0" r="3" fill="#fcb8a3"/>
<circle cx="362.3" cy="511.0" r="3" fill="#fcb8a3"/>
<circle cx="366.7" cy="493.3" r="3" fill="#fcb8a3" stroke-dasharray="1.5 1.1"/>
<circle cx="373.3" cy="500.0" r="3" fill="#fdcdbf"/>
<circle cx="385.0" cy="502.3" r="3" fill="#fba88e"/>
<circle cx="307.7" cy="515.7" r="3" fill="#fcb8a3"/>
<circle cx="305.0" cy="520.0" r="3" fill="#fff4f0" stroke-dasharray="1.5 1.1"/>
<circle cx="321.0" cy="516.7" r="3" fill="#fcb8a3"/>
<circle cx="362.3" cy="530.7" r="3" fill="#f98b6c" stroke-dasharray="1.5 1.1"/>
<circle cx="341.7" cy="545.0" r="3" fill="#fa8f71" stroke-dasharray="1.5 1.1"/>
<circle cx="309.3" cy="554.3" r="3" fill="#fa8f71"/>
<circle cx="357.3" cy="480.0" r="3" fill="#fcb8a3"/>
<circle cx="361.7" cy="471.7" r="3" fill="#fba88e"/>
<circle cx="366.7" cy="482.7" r="3" fill="#fcb8a3" stroke-dasharray="1.5 1.1"/>
<circle cx="378.3" cy="482.7" r="3" fill="#fdcdbf"/>
<circle cx="380.7" cy="471.7" r="3" fill="#fcb8a3"/>
<circle cx="387.3" cy="484.3" r="3" fill="#fff4f0"/>
<circle cx="389.3" cy="463.3" r="3" fill="#fcb8a3"/>
<circle cx="371.0" cy="463.3" r="3" fill="#fba88e"/>
<circle cx="396.0" cy="475.7" r="3" fill="#f87c5a" stroke-dasharray="1.5 1.1"/>
<circle cx="398.3" cy="485.0" r="3" fill="#fcb8a3"/>
<circle cx="402.7" cy="480.0" r="3" fill="#fba88e" stroke-dasharray="1.5 1.1"/>
<circle cx="405.0" cy="489.0" r="3" fill="#fa8f71" stroke-dasharray="1.5 1.1"/>
<circle cx="409.3" cy="483.3" r="3" fill="#f98b6c"/>
<circle cx="412.3" cy="477.7" r="3" fill="#fcb8a3"/>
<circle cx="412.3" cy="460.0" r="3" fill="#fdcdbf"/>
<circle cx="416.7" cy="460.7" r="3" fill="#ffffff"/>
<circle cx="425.7" cy="469.0" r="3" fill="#f98b6c"/>
<circle cx="428.3" cy="477.7" r="3" fill="#fdcdbf"/>
<circle cx="430.7" cy="458.3" r="3" fill="#fdcdbf"/>
<circle cx="435.0" cy="469.0" r="3" fill="#fba88e"/>
<circle cx="437.3" cy="465.0" r="3" fill="#fcb8a3" stroke-dasharray="1.5 1.1"/>
<circle cx="444.0" cy="454.3" r="3" fill="#fcb8a3"/>
<circle cx="455.0" cy="460.7" r="3" fill="#fcb8a3" stroke-dasharray="1.5 1.1"/>
<circle cx="462.7" cy="465.0" r="3" fill="#fba88e"/>
<circle cx="464.3" cy="475.7" r="3" fill="#fba88e" stroke-dasharray="1.5 1.1"/>
<circle cx="471.0" cy="456.7" r="3" fill="#fdcdbf"/>
<circle cx="473.3" cy="469.0" r="3" fill="#fdcdbf"/>
<circle cx="480.0" cy="455.0" r="3" fill="#fdcdbf"/>
<circle cx="480.7" cy="463.3" r="3" fill="#fddcd2"/>
<circle cx="482.7" cy="466.7" r="3" fill="#ffffff"/>
<circle cx="485.0" cy="473.3" r="3" fill="#ffffff"/>
<circle cx="498.3" cy="463.3" r="3" fill="#fcb8a3"/>
<circle cx="498.3" cy="474.3" r="3" fill="#fba88e" stroke-dasharray="1.5 1.1"/>
<circle cx="682.7" cy="160.7" r="3" fill="#fba88e"/>
<circle cx="687.3" cy="182.3" r="3" fill="#fcb8a3"/>
<circle cx="692.3" cy="189.0" r="3" fill="#fcb8a3" stroke-dasharray="1.5 1.1"/>
<circle cx="717.3" cy="186.7" r="3" fill="#fcb8a3" stroke-dasharray="1.5 1.1"/>
<circle cx="749.3" cy="184.3" r="3" fill="#fcb8a3"/>
<circle cx="753.3" cy="193.3" r="3" fill="#fba88e"/>
<circle cx="760.0" cy="165.0" r="3" fill="#fcb8a3"/>
<circle cx="769.0" cy="180.0" r="3" fill="#f98b6c" stroke-dasharray="1.5 1.1"/>
<circle cx="766.0" cy="187.3" r="3" fill="#fba88e"/>
<circle cx="774.0" cy="195.7" r="3" fill="#fcb8a3"/>
<circle cx="780.7" cy="167.3" r="3" fill="#fdcdbf"/>
<circle cx="812.3" cy="141.7" r="3" fill="#fddcd2"/>
<circle cx="808.3" cy="145.7" r="3" fill="#fcb8a3"/>
<circle cx="805.7" cy="152.3" r="3" fill="#fcb8a3"/>
<circle cx="814.3" cy="154.0" r="3" fill="#f87c5a"/>
<circle cx="821.7" cy="160.7" r="3" fill="#fba88e"/>
<circle cx="837.7" cy="173.3" r="3" fill="#fcb8a3" stroke-dasharray="1.5 1.1"/>
<circle cx="845.0" cy="195.7" r="3" fill="#fcb8a3"/>
<circle cx="796.7" cy="204.3" r="3" fill="#fdcdbf"/>
<circle cx="780.7" cy="215.7" r="3" fill="#fdcdbf"/>
<circle cx="821.7" cy="212.7" r="3" fill="#fba88e" stroke-dasharray="1.5 1.1"/>
<circle cx="837.7" cy="219.3" r="3" fill="#fcb8a3"/>
<circle cx="830.7" cy="227.7" r="3" fill="#fdcdbf" stroke-dasharray="1.5 1.1"/>
<circle cx="848.3" cy="227.7" r="3" fill="#fba88e"/>
<circle cx="810.0" cy="230.0" r="3" fill="#fde5dd"/>
<circle cx="799.0" cy="232.7" r="3" fill="#fcb8a3"/>
<circle cx="841.7" cy="243.3" r="3" fill="#fdcdbf"/>
<circle cx="651.0" cy="206.0" r="3" fill="#fcb8a3"/>
<circle cx="655.0" cy="206.7" r="3" fill="#fcb8a3"/>
<circle cx="662.3" cy="209.0" r="3" fill="#fba88e" stroke-dasharray="1.5 1.1"/>
<circle cx="680.7" cy="215.0" r="3" fill="#f87c5a" stroke-dasharray="1.5 1.1"/>
<circle cx="662.3" cy="224.0" r="3" fill="#fdcdbf"/>
<circle cx="651.0" cy="230.0" r="3" fill="#fdcdbf" stroke-dasharray="1.5 1.1"/>
<circle cx="675.7" cy="236.7" r="3" fill="#fcb8a3"/>
<circle cx="667.3" cy="238.3" r="3" fill="#fdcdbf"/>
<circle cx="614.3" cy="217.3" r="3" fill="#fcb8a3"/>
<circle cx="619.3" cy="221.7" r="3" fill="#fdcdbf"/>
<circle cx="630.7" cy="236.7" r="3" fill="#fdcdbf" stroke-dasharray="1.5 1.1"/>
<circle cx="633.3" cy="241.7" r="3" fill="#fcb8a3"/>
<circle cx="605.0" cy="239.0" r="3" fill="#f98b6c"/>
<circle cx="591.7" cy="241.7" r="3" fill="#fff4f0"/>
<circle cx="590.0" cy="247.7" r="3" fill="#fcb8a3"/>
<circle cx="580.0" cy="247.7" r="3" fill="#fcb8a3"/>
<circle cx="578.3" cy="250.0" r="3" fill="#fdcdbf" stroke-dasharray="1.5 1.1"/>
<circle cx="562.3" cy="238.3" r="3" fill="#fcb8a3" stroke-dasharray="1.5 1.1"/>
<circle cx="562.3" cy="244.0" r="3" fill="#fcb8a3" stroke-dasharray="1.5 1.1"/>
<circle cx="540.0" cy="239.0" r="3" fill="#fcb8a3"/>
<circle cx="523.3" cy="207.7" r="3" fill="#fdcdbf"/>
<circle cx="521.7" cy="210.0" r="3" fill="#fcb8a3" stroke-dasharray="1.5 1.1"/>
<circle cx="523.3" cy="217.3" r="3" fill="#fba88e" stroke-dasharray="1.5 1.1"/>
<circle cx="525.0" cy="221.7" r="3" fill="#fcb8a3" stroke-dasharray="1.5 1.1"/>
<circle cx="528.3" cy="228.3" r="3" fill="#fcb8a3"/>
<circle cx="507.7" cy="219.0" r="3" fill="#fdcdbf" stroke-dasharray="1.5 1.1"/>
<circle cx="515.0" cy="254.3" r="3" fill="#fff4f0" stroke-dasharray="1.5 1.1"/>
<circle cx="516.7" cy="259.0" r="3" fill="#fcb8a3" stroke-dasharray="1.5 1.1"/>
<circle cx="541.7" cy="252.7" r="3" fill="#fcb8a3"/>
<circle cx="544.0" cy="259.0" r="3" fill="#fba88e"/>
<circle cx="555.7" cy="256.7" r="3" fill="#fcb8a3" stroke-dasharray="1.5 1.1"/>
<circle cx="568.3" cy="256.0" r="3" fill="#fdcdbf" stroke-dasharray="1.5 1.1"/>
<circle cx="575.7" cy="262.7" r="3" fill="#fdcdbf" stroke-dasharray="1.5 1.1"/>
<circle cx="583.3" cy="266.7" r="3" fill="#fdcdbf"/>
<circle cx="578.3" cy="273.3" r="3" fill="#fa8f71"/>
<circle cx="599.3" cy="256.0" r="3" fill="#fcb8a3"/>
<circle cx="615.0" cy="262.7" r="3" fill="#fcb8a3"/>
<circle cx="621.7" cy="247.7" r="3" fill="#fcb8a3"/>
<circle cx="630.7" cy="250.0" r="3" fill="#f98b6c"/>
<circle cx="607.3" cy="266.7" r="3" fill="#f98b6c" stroke-dasharray="1.5 1.1"/>
<circle cx="600.7" cy="273.3" r="3" fill="#fcb8a3"/>
<circle cx="624.0" cy="266.7" r="3" fill="#fcb8a3"/>
<circle cx="624.0" cy="269.3" r="3" fill="#fcb8a3"/>
<circle cx="646.7" cy="260.7" r="3" fill="#fba88e"/>
<circle cx="666.7" cy="257.7" r="3" fill="#fcb8a3"/>
<circle cx="671.7" cy="263.3" r="3" fill="#ffffff"/>
<circle cx="666.7" cy="265.7" r="3" fill="#f87c5a"/>
<circle cx="653.3" cy="273.3" r="3" fill="#fba88e"/>
<circle cx="644.0" cy="277.7" r="3" fill="#fba88e"/>
<circle cx="630.7" cy="282.3" r="3" fill="#fa8f71" stroke-dasharray="1.5 1.1"/>
<circle cx="599.0" cy="282.3" r="3" fill="#fba88e" stroke-dasharray="1.5 1.1"/>
<circle cx="610.0" cy="286.7" r="3" fill="#fcb8a3"/>
<circle cx="589.3" cy="284.3" r="3" fill="#fcb8a3" stroke-dasharray="1.5 1.1"/>
<circle cx="578.3" cy="284.3" r="3" fill="#fdcdbf" stroke-dasharray="1.5 1.1"/>
<circle cx="562.3" cy="284.3" r="3" fill="#fcb8a3"/>
<circle cx="553.3" cy="284.3" r="3" fill="#fdcdbf"/>
<circle cx="548.3" cy="266.7" r="3" fill="#f98b6c" stroke-dasharray="1.5 1.1"/>
<circle cx="560.0" cy="266.7" r="3" fill="#fba88e" stroke-dasharray="1.5 1.1"/>
<circle cx="567.3" cy="266.7" r="3" fill="#fdcdbf" stroke-dasharray="1.5 1.1"/>
<circle cx="557.3" cy="272.3" r="3" fill="#fcb8a3" stroke-dasharray="1.5 1.1"/>
<circle cx="537.3" cy="273.3" r="3" fill="#fcb8a3"/>
<circle cx="535.0" cy="263.3" r="3" fill="#fba88e" stroke-dasharray="1.5 1.1"/>
<circle cx="528.3" cy="265.7" r="3" fill="#fba88e"/>
<circle cx="521.7" cy="271.7" r="3" fill="#efe8ff"/>
<circle cx="516.7" cy="265.7" r="3" fill="#fcb8a3"/>
<circle cx="507.7" cy="265.7" r="3" fill="#fcb8a3" stroke-dasharray="1.5 1.1"/>
<circle cx="510.0" cy="277.7" r="3" fill="#fcb8a3" stroke-dasharray="1.5 1.1"/>
<circle cx="519.3" cy="280.7" r="3" fill="#fba88e"/>
<circle cx="533.3" cy="282.3" r="3" fill="#fcb8a3"/>
<circle cx="512.3" cy="286.7" r="3" fill="#fdcdbf"/>
<circle cx="528.3" cy="289.0" r="3" fill="#fcb8a3"/>
<circle cx="507.7" cy="293.3" r="3" fill="#fcb8a3"/>
<circle cx="546.7" cy="291.7" r="3" fill="#fcb8a3"/>
<circle cx="557.3" cy="292.7" r="3" fill="#fba88e"/>
<circle cx="566.7" cy="290.0" r="3" fill="#fcb8a3"/>
<circle cx="567.3" cy="295.0" r="3" fill="#fcb8a3"/>
<circle cx="578.3" cy="291.7" r="3" fill="#fdcdbf"/>
<circle cx="578.3" cy="297.7" r="3" fill="#fba88e" stroke-dasharray="1.5 1.1"/>
<circle cx="586.7" cy="295.0" r="3" fill="#fdcdbf"/>
<circle cx="598.3" cy="294.3" r="3" fill="#fba88e"/>
<circle cx="599.0" cy="301.7" r="3" fill="#fcb8a3" stroke-dasharray="1.5 1.1"/>
<circle cx="607.3" cy="295.0" r="3" fill="#fba88e" stroke-dasharray="1.5 1.1"/>
<circle cx="621.7" cy="293.3" r="3" fill="#fdcdbf"/>
<circle cx="628.3" cy="300.0" r="3" fill="#fcb8a3"/>
<circle cx="649.0" cy="297.7" r="3" fill="#fdcdbf"/>
<circle cx="665.0" cy="301.7" r="3" fill="#fba88e" stroke-dasharray="1.5 1.1"/>
<circle cx="671.7" cy="304.0" r="3" fill="#fcb8a3" stroke-dasharray="1.5 1.1"/>
<circle cx="676.0" cy="293.3" r="3" fill="#fcb8a3"/>
<circle cx="550.0" cy="297.7" r="3" fill="#fcb8a3"/>
<circle cx="542.3" cy="301.7" r="3" fill="#fdcdbf" stroke-dasharray="1.5 1.1"/>
<circle cx="553.3" cy="304.0" r="3" fill="#fcb8a3" stroke-dasharray="1.5 1.1"/>
<circle cx="568.3" cy="301.7" r="3" fill="#fcb8a3"/>
<circle cx="564.3" cy="309.0" r="3" fill="#fba88e"/>
<circle cx="587.3" cy="306.7" r="3" fill="#fcb8a3"/>
<circle cx="605.7" cy="309.0" r="3" fill="#fba88e"/>
<circle cx="530.7" cy="310.7" r="3" fill="#ffffff"/>
<circle cx="515.0" cy="304.0" r="3" fill="#fcb8a3"/>
<circle cx="717.3" cy="247.7" r="3" fill="#f98b6c"/>
<circle cx="726.0" cy="239.0" r="3" fill="#fcb8a3"/>
<circle cx="744.3" cy="250.0" r="3" fill="#fba88e"/>
<circle cx="735.7" cy="258.3" r="3" fill="#fa8f71"/>
<circle cx="728.3" cy="262.7" r="3" fill="#f87c5a"/>
<circle cx="712.3" cy="265.0" r="3" fill="#fdcdbf"/>
<circle cx="703.3" cy="271.7" r="3" fill="#fde5dd" stroke-dasharray="1.5 1.1"/>
<circle cx="712.3" cy="282.3" r="3" fill="#fddcd2"/>
<circle cx="726.0" cy="284.3" r="3" fill="#fba88e"/>
<circle cx="732.3" cy="280.7" r="3" fill="#fba88e"/>
<circle cx="737.3" cy="273.3" r="3" fill="#fcb8a3"/>
<circle cx="760.0" cy="241.7" r="3" fill="#fba88e"/>
<circle cx="769.0" cy="244.0" r="3" fill="#fdcdbf"/>
<circle cx="764.3" cy="250.0" r="3" fill="#fcb8a3"/>
<circle cx="778.3" cy="245.7" r="3" fill="#fcb8a3" stroke-dasharray="1.5 1.1"/>
<circle cx="787.3" cy="247.7" r="3" fill="#ffffff"/>
<circle cx="764.3" cy="261.0" r="3" fill="#fba88e"/>
<circle cx="780.7" cy="261.0" r="3" fill="#fdcdbf" stroke-dasharray="1.5 1.1"/>
<circle cx="792.3" cy="265.0" r="3" fill="#fdcdbf"/>
<circle cx="787.3" cy="267.3" r="3" fill="#fdcdbf"/>
<circle cx="810.7" cy="262.7" r="3" fill="#fdcdbf"/>
<circle cx="782.3" cy="275.7" r="3" fill="#fba88e" stroke-dasharray="1.5 1.1"/>
<circle cx="784.0" cy="280.7" r="3" fill="#fba88e"/>
<circle cx="712.3" cy="297.7" r="3" fill="#fdcdbf"/>
<circle cx="719.3" cy="300.0" r="3" fill="#fba88e"/>
<circle cx="680.7" cy="310.7" r="3" fill="#f98b6c"/>
<circle cx="701.0" cy="310.7" r="3" fill="#fba88e"/>
<circle cx="710.0" cy="317.3" r="3" fill="#fba88e"/>
<circle cx="728.3" cy="310.7" r="3" fill="#fba88e"/>
<circle cx="733.3" cy="310.7" r="3" fill="#fba88e"/>
<circle cx="728.3" cy="315.7" r="3" fill="#fddcd2"/>
<circle cx="719.3" cy="321.7" r="3" fill="#fcb8a3"/>
<circle cx="716.7" cy="326.7" r="3" fill="#fcb8a3"/>
<circle cx="694.0" cy="328.3" r="3" fill="#fdcdbf" stroke-dasharray="1.5 1.1"/>
<circle cx="680.7" cy="323.3" r="3" fill="#fcb8a3"/>
<circle cx="666.7" cy="314.0" r="3" fill="#fba88e" stroke-dasharray="1.5 1.1"/>
<circle cx="666.7" cy="319.3" r="3" fill="#fdcdbf"/>
<circle cx="655.7" cy="319.3" r="3" fill="#fcb8a3" stroke-dasharray="1.5 1.1"/>
<circle cx="662.3" cy="326.0" r="3" fill="#fcb8a3"/>
<circle cx="646.7" cy="312.7" r="3" fill="#f87c5a"/>
<circle cx="641.7" cy="321.7" r="3" fill="#fcb8a3"/>
<circle cx="641.7" cy="330.7" r="3" fill="#fcb8a3"/>
<circle cx="632.3" cy="317.3" r="3" fill="#fcb8a3"/>
<circle cx="635.0" cy="309.0" r="3" fill="#fba88e"/>
<circle cx="619.3" cy="315.0" r="3" fill="#fba88e"/>
<circle cx="580.0" cy="326.0" r="3" fill="#fcb8a3"/>
<circle cx="550.0" cy="321.7" r="3" fill="#fde5dd"/>
<circle cx="512.3" cy="323.3" r="3" fill="#fa8f71"/>
<circle cx="521.7" cy="332.3" r="3" fill="#fcb8a3"/>
<circle cx="519.0" cy="341.0" r="3" fill="#fcb8a3" stroke-dasharray="1.5 1.1"/>
<circle cx="530.7" cy="345.7" r="3" fill="#fcb8a3"/>
<circle cx="501.0" cy="339.0" r="3" fill="#f98b6c" stroke-dasharray="1.5 1.1"/>
<circle cx="685.0" cy="339.0" r="3" fill="#fba88e"/>
<circle cx="708.3" cy="343.3" r="3" fill="#fde5dd"/>
<circle cx="714.3" cy="341.0" r="3" fill="#fdcdbf"/>
<circle cx="706.0" cy="349.3" r="3" fill="#fdcdbf"/>
<circle cx="678.3" cy="349.3" r="3" fill="#fba88e"/>
<circle cx="754.3" cy="323.3" r="3" fill="#fdcdbf" stroke-dasharray="1.5 1.1"/>
<circle cx="760.0" cy="321.0" r="3" fill="#fdcdbf"/>
<circle cx="765.0" cy="315.0" r="3" fill="#fcb8a3"/>
<circle cx="769.0" cy="317.3" r="3" fill="#fba88e" stroke-dasharray="1.5 1.1"/>
<circle cx="772.7" cy="305.7" r="3" fill="#fba88e" stroke-dasharray="1.5 1.1"/>
<circle cx="778.3" cy="303.3" r="3" fill="#fcb8a3"/>
<circle cx="782.7" cy="302.3" r="3" fill="#fcb8a3" stroke-dasharray="1.5 1.1"/>
<circle cx="785.0" cy="297.7" r="3" fill="#fcb8a3" stroke-dasharray="1.5 1.1"/>
<circle cx="786.0" cy="310.0" r="3" fill="#fcb8a3"/>
<circle cx="796.7" cy="306.7" r="3" fill="#fcb8a3"/>
<circle cx="799.3" cy="295.7" r="3" fill="#fdcdbf"/>
<circle cx="805.7" cy="291.7" r="3" fill="#fdcdbf" stroke-dasharray="1.5 1.1"/>
<circle cx="805.0" cy="297.7" r="3" fill="#fcb8a3" stroke-dasharray="1.5 1.1"/>
<circle cx="812.3" cy="306.7" r="3" fill="#fdcdbf" stroke-dasharray="1.5 1.1"/>
<circle cx="808.3" cy="317.3" r="3" fill="#fba88e"/>
<circle cx="796.7" cy="321.7" r="3" fill="#fcb8a3"/>
<circle cx="817.3" cy="300.0" r="3" fill="#fdcdbf"/>
<circle cx="817.3" cy="284.3" r="3" fill="#fcb8a3"/>
<circle cx="821.7" cy="282.3" r="3" fill="#fde5dd"/>
<circle cx="830.0" cy="295.0" r="3" fill="#fcb8a3" stroke-dasharray="1.5 1.1"/>
<circle cx="831.0" cy="299.0" r="3" fill="#fdcdbf"/>
<circle cx="837.7" cy="301.7" r="3" fill="#fcb8a3" stroke-dasharray="1.5 1.1"/>
<circle cx="841.7" cy="306.7" r="3" fill="#fcb8a3"/>
<circle cx="826.7" cy="309.0" r="3" fill="#fdcdbf"/>
<circle cx="829.3" cy="314.0" r="3" fill="#fdcdbf"/>
<circle cx="849.0" cy="297.7" r="3" fill="#fdcdbf"/>
<circle cx="846.7" cy="277.7" r="3" fill="#f98b6c" stroke-dasharray="1.5 1.1"/>
<circle cx="824.3" cy="328.3" r="3" fill="#fcb8a3" stroke-dasharray="1.5 1.1"/>
<circle cx="833.3" cy="326.7" r="3" fill="#fcb8a3"/>
<circle cx="846.7" cy="332.3" r="3" fill="#fcb8a3" stroke-dasharray="1.5 1.1"/>
<circle cx="830.7" cy="337.3" r="3" fill="#fba88e" stroke-dasharray="1.5 1.1"/>
<circle cx="839.3" cy="341.0" r="3" fill="#fdcdbf"/>
<circle cx="790.7" cy="334.3" r="3" fill="#ffffff" stroke-dasharray="1.5 1.1"/>
<circle cx="769.3" cy="332.3" r="3" fill="#fcb8a3" stroke-dasharray="1.5 1.1"/>
<circle cx="765.0" cy="349.3" r="3" fill="#f87c5a"/>
<circle cx="800.7" cy="347.7" r="3" fill="#fcb8a3"/>
<circle cx="519.0" cy="352.3" r="3" fill="#fdcdbf"/>
<circle cx="544.0" cy="358.3" r="3" fill="#fddcd2"/>
<circle cx="530.0" cy="370.0" r="3" fill="#fddcd2"/>
<circle cx="516.7" cy="380.7" r="3" fill="#fcb8a3" stroke-dasharray="1.5 1.1"/>
<circle cx="571.7" cy="378.3" r="3" fill="#fcb8a3" stroke-dasharray="1.5 1.1"/>
<circle cx="544.0" cy="391.0" r="3" fill="#fcb8a3"/>
<circle cx="573.3" cy="395.0" r="3" fill="#fba88e"/>
<circle cx="500.7" cy="395.0" r="3" fill="#fcb8a3"/>
<circle cx="502.7" cy="401.7" r="3" fill="#fdcdbf"/>
<circle cx="525.7" cy="397.3" r="3" fill="#fba88e"/>
<circle cx="530.7" cy="406.0" r="3" fill="#ffffff"/>
<circle cx="528.3" cy="414.0" r="3" fill="#fcb8a3"/>
<circle cx="512.3" cy="417.3" r="3" fill="#ffffff"/>
<circle cx="502.7" cy="421.0" r="3" fill="#fdcdbf"/>
<circle cx="543.3" cy="423.3" r="3" fill="#fcb8a3"/>
<circle cx="555.7" cy="412.7" r="3" fill="#f87c5a"/>
<circle cx="560.0" cy="421.0" r="3" fill="#fcb8a3"/>
<circle cx="557.3" cy="428.3" r="3" fill="#fcb8a3"/>
<circle cx="575.7" cy="425.7" r="3" fill="#fdcdbf" stroke-dasharray="1.5 1.1"/>
<circle cx="598.3" cy="410.7" r="3" fill="#fcb8a3"/>
<circle cx="594.3" cy="419.0" r="3" fill="#fdcdbf" stroke-dasharray="1.5 1.1"/>
<circle cx="590.0" cy="425.7" r="3" fill="#fba88e"/>
<circle cx="607.7" cy="423.3" r="3" fill="#fff4f0"/>
<circle cx="616.7" cy="431.7" r="3" fill="#fdcdbf"/>
<circle cx="646.7" cy="371.7" r="3" fill="#f87c5a"/>
<circle cx="657.7" cy="375.7" r="3" fill="#fcb8a3" stroke-dasharray="1.5 1.1"/>
<circle cx="665.0" cy="380.7" r="3" fill="#fcb8a3"/>
<circle cx="678.3" cy="350.0" r="3" fill="#fcb8a3"/>
<circle cx="706.0" cy="350.0" r="3" fill="#fdcdbf"/>
<circle cx="714.3" cy="371.7" r="3" fill="#fdcdbf"/>
<circle cx="719.3" cy="380.7" r="3" fill="#fa8f71"/>
<circle cx="744.3" cy="373.3" r="3" fill="#fcb8a3"/>
<circle cx="748.3" cy="362.7" r="3" fill="#fde5dd"/>
<circle cx="764.3" cy="365.0" r="3" fill="#fcb8a3"/>
<circle cx="764.3" cy="350.0" r="3" fill="#f98b6c"/>
<circle cx="785.0" cy="358.3" r="3" fill="#fcb8a3" stroke-dasharray="1.5 1.1"/>
<circle cx="801.0" cy="358.3" r="3" fill="#fde5dd"/>
<circle cx="821.7" cy="362.7" r="3" fill="#fcb8a3"/>
<circle cx="832.7" cy="360.7" r="3" fill="#fcb8a3" stroke-dasharray="1.5 1.1"/>
<circle cx="842.3" cy="358.3" r="3" fill="#fdcdbf"/>
<circle cx="837.7" cy="369.3" r="3" fill="#fcb8a3" stroke-dasharray="1.5 1.1"/>
<circle cx="849.3" cy="365.0" r="3" fill="#fff1ec"/>
<circle cx="691.7" cy="391.0" r="3" fill="#fcb8a3" stroke-dasharray="1.5 1.1"/>
<circle cx="669.3" cy="401.7" r="3" fill="#f98b6c" stroke-dasharray="1.5 1.1"/>
<circle cx="682.7" cy="408.3" r="3" fill="#fcb8a3"/>
<circle cx="700.7" cy="410.7" r="3" fill="#fddcd2" stroke-dasharray="1.5 1.1"/>
<circle cx="701.0" cy="419.3" r="3" fill="#f98b6c"/>
<circle cx="721.7" cy="410.7" r="3" fill="#fcb8a3"/>
<circle cx="730.7" cy="401.7" r="3" fill="#f98b6c"/>
<circle cx="735.7" cy="393.3" r="3" fill="#fba88e"/>
<circle cx="742.3" cy="389.3" r="3" fill="#fcb8a3"/>
<circle cx="748.3" cy="392.3" r="3" fill="#fcb8a3"/>
<circle cx="746.0" cy="398.3" r="3" fill="#fba88e" stroke-dasharray="1.5 1.1"/>
<circle cx="735.7" cy="408.3" r="3" fill="#fcb8a3"/>
<circle cx="746.7" cy="410.7" r="3" fill="#fcb8a3"/>
<circle cx="767.3" cy="391.0" r="3" fill="#fa8f71" stroke-dasharray="1.5 1.1"/>
<circle cx="780.7" cy="401.7" r="3" fill="#ffffff" stroke-dasharray="1.5 1.1"/>
<circle cx="798.3" cy="397.3" r="3" fill="#fcb8a3"/>
<circle cx="802.7" cy="406.0" r="3" fill="#fff1ec"/>
<circle cx="807.7" cy="406.0" r="3" fill="#fcc1ae"/>
<circle cx="803.3" cy="415.0" r="3" fill="#fcb8a3" stroke-dasharray="1.5 1.1"/>
<circle cx="826.0" cy="408.3" r="3" fill="#fde3da" stroke-dasharray="1.5 1.1"/>
<circle cx="830.0" cy="389.3" r="3" fill="#fba88e"/>
<circle cx="835.0" cy="395.0" r="3" fill="#f98b6c"/>
<circle cx="833.3" cy="421.0" r="3" fill="#fff1ec"/>
<circle cx="753.3" cy="421.0" r="3" fill="#fff1ec"/>
<circle cx="767.3" cy="421.0" r="3" fill="#fcc1ae"/>
<circle cx="782.7" cy="423.3" r="3" fill="#ffffff"/>
<circle cx="732.7" cy="428.3" r="3" fill="#fde3da" stroke-dasharray="1.5 1.1"/>
<circle cx="712.7" cy="430.0" r="3" fill="#e6dcff"/>
<circle cx="685.0" cy="428.3" r="3" fill="#fdcdbf" stroke-dasharray="1.5 1.1"/>
<circle cx="673.3" cy="431.7" r="3" fill="#fcb8a3"/>
<circle cx="655.7" cy="425.7" r="3" fill="#fba88e"/>
<circle cx="646.7" cy="431.7" r="3" fill="#f87c5a" stroke-dasharray="1.5 1.1"/>
<circle cx="645.7" cy="439.0" r="3" fill="#fdcdbf"/>
<circle cx="643.3" cy="443.3" r="3" fill="#fcb8a3"/>
<circle cx="636.7" cy="449.3" r="3" fill="#fcb8a3" stroke-dasharray="1.5 1.1"/>
<circle cx="624.0" cy="447.3" r="3" fill="#fcb8a3" stroke-dasharray="1.5 1.1"/>
<circle cx="628.3" cy="452.3" r="3" fill="#fba88e"/>
<circle cx="616.7" cy="454.3" r="3" fill="#fcb8a3"/>
<circle cx="615.0" cy="458.3" r="3" fill="#fcb8a3"/>
<circle cx="605.0" cy="449.3" r="3" fill="#fdcdbf" stroke-dasharray="1.5 1.1"/>
<circle cx="603.3" cy="440.0" r="3" fill="#f87c5a"/>
<circle cx="611.7" cy="441.0" r="3" fill="#fdcdbf"/>
<circle cx="600.0" cy="436.7" r="3" fill="#fdcdbf"/>
<circle cx="589.3" cy="435.0" r="3" fill="#fcb8a3" stroke-dasharray="1.5 1.1"/>
<circle cx="590.0" cy="443.3" r="3" fill="#fff4f0"/>
<circle cx="577.7" cy="440.0" r="3" fill="#fcb8a3" stroke-dasharray="1.5 1.1"/>
<circle cx="576.0" cy="447.3" r="3" fill="#f87c5a"/>
<circle cx="555.7" cy="447.3" r="3" fill="#fcb8a3"/>
<circle cx="541.7" cy="435.0" r="3" fill="#fcb8a3"/>
<circle cx="541.7" cy="454.3" r="3" fill="#fa8f71"/>
<circle cx="537.3" cy="458.3" r="3" fill="#fba88e"/>
<circle cx="523.3" cy="440.7" r="3" fill="#fcb8a3"/>
<circle cx="521.7" cy="449.3" r="3" fill="#f87c5a"/>
<circle cx="514.3" cy="431.7" r="3" fill="#fdcdbf" stroke-dasharray="1.5 1.1"/>
<circle cx="507.7" cy="439.0" r="3" fill="#fa8f71"/>
<circle cx="501.0" cy="449.3" r="3" fill="#fdcdbf" stroke-dasharray="1.5 1.1"/>
<circle cx="506.0" cy="456.0" r="3" fill="#fba88e"/>
<circle cx="516.7" cy="456.7" r="3" fill="#fcb8a3"/>
<circle cx="528.3" cy="430.0" r="3" fill="#fddcd2"/>
<circle cx="560.0" cy="458.3" r="3" fill="#fba88e" stroke-dasharray="1.5 1.1"/>
<circle cx="562.3" cy="465.0" r="3" fill="#fcb8a3" stroke-dasharray="1.5 1.1"/>
<circle cx="577.7" cy="462.7" r="3" fill="#fdcdbf"/>
<circle cx="592.3" cy="465.0" r="3" fill="#f87c5a"/>
<circle cx="603.3" cy="469.0" r="3" fill="#fdcdbf"/>
<circle cx="610.0" cy="465.0" r="3" fill="#fba88e" stroke-dasharray="1.5 1.1"/>
<circle cx="616.7" cy="461.7" r="3" fill="#fdcdbf"/>
<circle cx="626.0" cy="469.0" r="3" fill="#fdcdbf"/>
<circle cx="635.0" cy="465.0" r="3" fill="#fba88e"/>
<circle cx="640.0" cy="462.7" r="3" fill="#fdcdbf"/>
<circle cx="642.3" cy="456.0" r="3" fill="#fba88e" stroke-dasharray="1.5 1.1"/>
<circle cx="655.7" cy="454.3" r="3" fill="#fdcdbf"/>
<circle cx="665.0" cy="445.0" r="3" fill="#fcb8a3" stroke-dasharray="1.5 1.1"/>
<circle cx="673.3" cy="454.3" r="3" fill="#c6b3ff"/>
<circle cx="689.3" cy="456.0" r="3" fill="#fba88e" stroke-dasharray="1.5 1.1"/>
<circle cx="698.3" cy="439.0" r="3" fill="#fcb8a3"/>
<circle cx="726.0" cy="441.0" r="3" fill="#fde5dd"/>
<circle cx="740.0" cy="445.0" r="3" fill="#fba88e"/>
<circle cx="753.3" cy="441.0" r="3" fill="#fde3da" stroke-dasharray="1.5 1.1"/>
<circle cx="719.3" cy="460.7" r="3" fill="#0000ee"/>
<circle cx="728.3" cy="465.0" r="3" fill="#fa8f71"/>
<circle cx="751.0" cy="460.7" r="3" fill="#f98b6c"/>
<circle cx="758.3" cy="460.7" r="3" fill="#fddcd2"/>
<circle cx="776.0" cy="447.3" r="3" fill="#e6dcff"/>
<circle cx="782.7" cy="436.7" r="3" fill="#efe8ff"/>
<circle cx="787.3" cy="445.7" r="3" fill="#fdcdbf"/>
<circle cx="796.0" cy="447.3" r="3" fill="#ffffff"/>
<circle cx="805.7" cy="441.0" r="3" fill="#e6dcff"/>
<circle cx="821.7" cy="436.7" r="3" fill="#e6dcff"/>
<circle cx="828.3" cy="445.7" r="3" fill="#fff1ec"/>
<circle cx="837.7" cy="445.7" r="3" fill="#fde3da" stroke-dasharray="1.5 1.1"/>
<circle cx="816.7" cy="454.3" r="3" fill="#fa8f71" stroke-dasharray="1.5 1.1"/>
<circle cx="832.7" cy="458.3" r="3" fill="#7d58ff"/>
<circle cx="796.7" cy="465.0" r="3" fill="#f98b6c"/>
<circle cx="778.3" cy="467.3" r="3" fill="#fde5dd"/>
<circle cx="812.3" cy="469.0" r="3" fill="#fde3da" stroke-dasharray="1.5 1.1"/>
<circle cx="832.7" cy="467.3" r="3" fill="#fde5dd"/>
<circle cx="510.0" cy="467.3" r="3" fill="#fba88e"/>
<circle cx="523.3" cy="467.3" r="3" fill="#fddcd2"/>
<circle cx="541.7" cy="474.0" r="3" fill="#fdcdbf" stroke-dasharray="1.5 1.1"/>
<circle cx="566.7" cy="477.7" r="3" fill="#fdcdbf" stroke-dasharray="1.5 1.1"/>
<circle cx="596.0" cy="482.7" r="3" fill="#fa8f71"/>
<circle cx="527.7" cy="484.3" r="3" fill="#fcb8a3"/>
<circle cx="522.7" cy="482.3" r="3" fill="#fba88e"/>
<circle cx="519.0" cy="489.0" r="3" fill="#fde3da"/>
<circle cx="510.0" cy="482.7" r="3" fill="#fdcdbf"/>
<circle cx="502.7" cy="482.7" r="3" fill="#fdcdbf" stroke-dasharray="1.5 1.1"/>
<circle cx="555.7" cy="497.3" r="3" fill="#fba88e" stroke-dasharray="1.5 1.1"/>
<circle cx="630.7" cy="480.0" r="3" fill="#fba88e"/>
<circle cx="631.7" cy="483.3" r="3" fill="#fcb8a3"/>
<circle cx="639.3" cy="482.7" r="3" fill="#fa8f71"/>
<circle cx="648.3" cy="475.7" r="3" fill="#fde5dd"/>
<circle cx="649.0" cy="484.3" r="3" fill="#fba88e"/>
<circle cx="646.7" cy="469.3" r="3" fill="#fcb8a3" stroke-dasharray="1.5 1.1"/>
<circle cx="657.3" cy="467.3" r="3" fill="#fcb8a3" stroke-dasharray="1.5 1.1"/>
<circle cx="666.7" cy="463.3" r="3" fill="#fba88e" stroke-dasharray="1.5 1.1"/>
<circle cx="666.7" cy="473.3" r="3" fill="#ffffff"/>
<circle cx="678.3" cy="467.3" r="3" fill="#fdcdbf"/>
<circle cx="673.3" cy="480.0" r="3" fill="#b9a2ff"/>
<circle cx="660.0" cy="489.0" r="3" fill="#fdcdbf"/>
<circle cx="642.3" cy="491.0" r="3" fill="#fdcdbf" stroke-dasharray="1.5 1.1"/>
<circle cx="635.0" cy="493.3" r="3" fill="#fa8f71"/>
<circle cx="691.7" cy="471.7" r="3" fill="#fde5dd"/>
<circle cx="705.7" cy="474.0" r="3" fill="#fddcd2"/>
<circle cx="721.7" cy="474.0" r="3" fill="#fba88e"/>
<circle cx="698.3" cy="482.7" r="3" fill="#ffffff"/>
<circle cx="689.0" cy="491.0" r="3" fill="#fcb8a3"/>
<circle cx="712.3" cy="489.0" r="3" fill="#fba88e"/>
<circle cx="726.0" cy="484.3" r="3" fill="#fddcd2"/>
<circle cx="728.3" cy="493.3" r="3" fill="#fba88e"/>
<circle cx="744.3" cy="475.7" r="3" fill="#fcc1ae"/>
<circle cx="751.0" cy="482.7" r="3" fill="#fcd2c5"/>
<circle cx="740.0" cy="495.0" r="3" fill="#fff1ec"/>
<circle cx="764.3" cy="493.3" r="3" fill="#fcb8a3"/>
<circle cx="700.7" cy="495.0" r="3" fill="#f98b6c"/>
<circle cx="717.3" cy="499.3" r="3" fill="#fcb8a3"/>
<circle cx="714.3" cy="505.7" r="3" fill="#fcb8a3"/>
<circle cx="721.7" cy="508.3" r="3" fill="#fddcd2"/>
<circle cx="696.7" cy="504.0" r="3" fill="#fa8f71" stroke-dasharray="1.5 1.1"/>
<circle cx="701.7" cy="505.7" r="3" fill="#f87c5a" stroke-dasharray="1.5 1.1"/>
<circle cx="694.3" cy="508.3" r="3" fill="#fcb8a3"/>
<circle cx="685.0" cy="501.7" r="3" fill="#fdcdbf" stroke-dasharray="1.5 1.1"/>
<circle cx="678.3" cy="501.7" r="3" fill="#fde5dd" stroke-dasharray="1.5 1.1"/>
<circle cx="678.3" cy="505.7" r="3" fill="#fdcdbf" stroke-dasharray="1.5 1.1"/>
<circle cx="669.3" cy="515.0" r="3" fill="#fcb8a3"/>
<circle cx="703.3" cy="512.3" r="3" fill="#fcb8a3"/>
<circle cx="710.0" cy="514.3" r="3" fill="#fcb8a3"/>
<circle cx="716.7" cy="519.0" r="3" fill="#fff1ec"/>
<circle cx="719.3" cy="523.3" r="3" fill="#fdcdbf"/>
<circle cx="728.3" cy="525.7" r="3" fill="#fcb8a3" stroke-dasharray="1.5 1.1"/>
<circle cx="726.0" cy="530.0" r="3" fill="#fde3da" stroke-dasharray="1.5 1.1"/>
<circle cx="730.7" cy="533.3" r="3" fill="#fcd2c5"/>
<circle cx="740.0" cy="521.7" r="3" fill="#fcd2c5"/>
<circle cx="742.3" cy="525.7" r="3" fill="#f87c5a"/>
<circle cx="735.7" cy="510.7" r="3" fill="#fcb8a3"/>
<circle cx="746.0" cy="510.7" r="3" fill="#e6dcff"/>
<circle cx="753.3" cy="519.0" r="3" fill="#fde5dd" stroke-dasharray="1.5 1.1"/>
<circle cx="758.3" cy="502.3" r="3" fill="#fde3da" stroke-dasharray="1.5 1.1"/>
<circle cx="758.3" cy="514.3" r="3" fill="#fde3da" stroke-dasharray="1.5 1.1"/>
<circle cx="765.0" cy="515.0" r="3" fill="#fdcdbf" stroke-dasharray="1.5 1.1"/>
<circle cx="760.0" cy="527.7" r="3" fill="#fff1ec" stroke-dasharray="1.5 1.1"/>
<circle cx="762.7" cy="545.0" r="3" fill="#fdcdbf"/>
<circle cx="724.0" cy="547.3" r="3" fill="#fde3da"/>
<circle cx="717.3" cy="539.0" r="3" fill="#fba88e"/>
<circle cx="710.0" cy="536.7" r="3" fill="#fcb8a3"/>
<circle cx="701.0" cy="539.0" r="3" fill="#fff1ec" stroke-dasharray="1.5 1.1"/>
<circle cx="705.7" cy="542.7" r="3" fill="#fcb8a3" stroke-dasharray="1.5 1.1"/>
<circle cx="689.3" cy="532.3" r="3" fill="#f98b6c"/>
<circle cx="660.0" cy="532.3" r="3" fill="#fddcd2"/>
<circle cx="645.7" cy="547.3" r="3" fill="#fff4f0"/>
<circle cx="607.7" cy="515.0" r="3" fill="#fba88e"/>
<circle cx="587.3" cy="516.7" r="3" fill="#fa8f71"/>
<circle cx="666.7" cy="567.3" r="3" fill="#fcb8a3"/>
<circle cx="678.3" cy="565.0" r="3" fill="#fde3da"/>
<circle cx="694.0" cy="560.0" r="3" fill="#fcb8a3"/>
<circle cx="701.0" cy="558.3" r="3" fill="#fba88e"/>
<circle cx="696.7" cy="567.3" r="3" fill="#fdcdbf"/>
<circle cx="737.3" cy="558.3" r="3" fill="#fdcdbf" stroke-dasharray="1.5 1.1"/>
<circle cx="742.3" cy="567.3" r="3" fill="#fcb8a3"/>
<circle cx="782.7" cy="560.0" r="3" fill="#fcb8a3" stroke-dasharray="1.5 1.1"/>
<circle cx="790.0" cy="542.7" r="3" fill="#fba88e" stroke-dasharray="1.5 1.1"/>
<circle cx="787.3" cy="495.0" r="3" fill="#fcc1ae" stroke-dasharray="1.5 1.1"/>
<circle cx="792.3" cy="495.0" r="3" fill="#fcd2c5"/>
<circle cx="791.7" cy="502.3" r="3" fill="#fde5dd" stroke-dasharray="1.5 1.1"/>
<circle cx="801.0" cy="496.7" r="3" fill="#fcb8a3"/>
<circle cx="807.7" cy="504.0" r="3" fill="#fff1ec"/>
<circle cx="801.0" cy="510.7" r="3" fill="#fba88e"/>
<circle cx="801.0" cy="515.0" r="3" fill="#fff1ec" stroke-dasharray="1.5 1.1"/>
<circle cx="787.3" cy="519.0" r="3" fill="#f98b6c"/>
<circle cx="794.3" cy="527.7" r="3" fill="#fa8f71"/>
<circle cx="807.7" cy="530.0" r="3" fill="#fff1ec"/>
<circle cx="819.3" cy="504.0" r="3" fill="#fff4f0" stroke-dasharray="1.5 1.1"/>
<circle cx="826.0" cy="496.7" r="3" fill="#fff1ec"/>
<circle cx="835.0" cy="504.0" r="3" fill="#efe8ff"/>
<circle cx="821.7" cy="516.7" r="3" fill="#fff4f0"/>
<circle cx="832.7" cy="521.7" r="3" fill="#fcc1ae" stroke-dasharray="1.5 1.1"/>
<circle cx="796.7" cy="482.7" r="3" fill="#fff1ec" stroke-dasharray="1.5 1.1"/>
<circle cx="830.7" cy="480.0" r="3" fill="#fff4f0"/>
<circle cx="846.7" cy="484.3" r="3" fill="#efe8ff"/>
<circle cx="815.0" cy="551.7" r="3" fill="#fcc1ae" stroke-dasharray="1.5 1.1"/>
<circle cx="839.3" cy="551.7" r="3" fill="#fcd2c5"/>
<circle cx="844.3" cy="556.0" r="3" fill="#f87c5a"/>
<circle cx="833.3" cy="565.0" r="3" fill="#fde3da"/>
<circle cx="885.0" cy="136.7" r="3" fill="#f87c5a"/>
<circle cx="901.0" cy="132.7" r="3" fill="#fcb8a3" stroke-dasharray="1.5 1.1"/>
<circle cx="892.3" cy="145.7" r="3" fill="#fdcdbf"/>
<circle cx="879.0" cy="150.0" r="3" fill="#fba88e"/>
<circle cx="865.0" cy="151.7" r="3" fill="#fcb8a3" stroke-dasharray="1.5 1.1"/>
<circle cx="899.0" cy="170.0" r="3" fill="#fcb8a3" stroke-dasharray="1.5 1.1"/>
<circle cx="869.3" cy="175.7" r="3" fill="#fdcdbf"/>
<circle cx="869.0" cy="180.7" r="3" fill="#fdcdbf"/>
<circle cx="871.7" cy="189.0" r="3" fill="#fba88e"/>
<circle cx="892.3" cy="193.3" r="3" fill="#fba88e" stroke-dasharray="1.5 1.1"/>
<circle cx="903.3" cy="200.0" r="3" fill="#fba88e"/>
<circle cx="912.3" cy="208.3" r="3" fill="#f98b6c"/>
<circle cx="924.0" cy="200.0" r="3" fill="#fdcdbf" stroke-dasharray="1.5 1.1"/>
<circle cx="932.7" cy="178.3" r="3" fill="#fcb8a3"/>
<circle cx="933.3" cy="215.7" r="3" fill="#fdcdbf" stroke-dasharray="1.5 1.1"/>
<circle cx="882.7" cy="206.7" r="3" fill="#fdcdbf"/>
<circle cx="883.3" cy="211.0" r="3" fill="#fdcdbf" stroke-dasharray="1.5 1.1"/>
<circle cx="885.0" cy="216.0" r="3" fill="#fba88e"/>
<circle cx="880.7" cy="221.7" r="3" fill="#fcb8a3"/>
<circle cx="899.0" cy="217.3" r="3" fill="#fcb8a3" stroke-dasharray="1.5 1.1"/>
<circle cx="865.0" cy="221.7" r="3" fill="#fdcdbf"/>
<circle cx="855.0" cy="230.0" r="3" fill="#fdcdbf"/>
<circle cx="858.3" cy="235.0" r="3" fill="#fde5dd"/>
<circle cx="926.0" cy="235.0" r="3" fill="#fdcdbf"/>
<circle cx="921.7" cy="245.0" r="3" fill="#fcb8a3"/>
<circle cx="915.0" cy="252.3" r="3" fill="#fba88e"/>
<circle cx="937.3" cy="247.7" r="3" fill="#fba88e"/>
<circle cx="928.3" cy="256.0" r="3" fill="#fcb8a3"/>
<circle cx="901.0" cy="259.0" r="3" fill="#fdcdbf"/>
<circle cx="871.7" cy="265.0" r="3" fill="#fdcdbf"/>
<circle cx="903.3" cy="274.0" r="3" fill="#fcb8a3"/>
<circle cx="876.0" cy="282.7" r="3" fill="#fcb8a3" stroke-dasharray="1.5 1.1"/>
<circle cx="867.3" cy="286.7" r="3" fill="#fdcdbf" stroke-dasharray="1.5 1.1"/>
<circle cx="860.0" cy="291.7" r="3" fill="#fcb8a3"/>
<circle cx="871.7" cy="295.0" r="3" fill="#fdcdbf"/>
<circle cx="865.0" cy="304.0" r="3" fill="#fcb8a3"/>
<circle cx="889.3" cy="297.7" r="3" fill="#fdcdbf"/>
<circle cx="876.0" cy="310.7" r="3" fill="#fcb8a3"/>
<circle cx="926.0" cy="282.7" r="3" fill="#fcb8a3" stroke-dasharray="1.5 1.1"/>
<circle cx="944.0" cy="277.7" r="3" fill="#fdcdbf"/>
<circle cx="944.3" cy="289.0" r="3" fill="#fcb8a3"/>
<circle cx="932.7" cy="297.7" r="3" fill="#fdcdbf"/>
<circle cx="912.7" cy="309.0" r="3" fill="#fde5dd"/>
<circle cx="919.3" cy="315.0" r="3" fill="#fba88e" stroke-dasharray="1.5 1.1"/>
<circle cx="953.3" cy="297.7" r="3" fill="#fba88e"/>
<circle cx="965.0" cy="304.0" r="3" fill="#fcb8a3"/>
<circle cx="981.0" cy="309.0" r="3" fill="#fcb8a3"/>
<circle cx="976.7" cy="315.0" r="3" fill="#fcb8a3" stroke-dasharray="1.5 1.1"/>
<circle cx="940.0" cy="326.0" r="3" fill="#fdcdbf"/>
<circle cx="928.3" cy="341.0" r="3" fill="#fba88e"/>
<circle cx="880.7" cy="339.0" r="3" fill="#fa8f71" stroke-dasharray="1.5 1.1"/>
<circle cx="885.0" cy="345.7" r="3" fill="#fcb8a3"/>
<circle cx="865.0" cy="330.0" r="3" fill="#fba88e"/>
<circle cx="867.3" cy="347.7" r="3" fill="#fcb8a3" stroke-dasharray="1.5 1.1"/>
<circle cx="949.0" cy="206.7" r="3" fill="#fcb8a3"/>
<circle cx="955.7" cy="209.0" r="3" fill="#fcb8a3"/>
<circle cx="965.0" cy="212.7" r="3" fill="#fcb8a3" stroke-dasharray="1.5 1.1"/>
<circle cx="960.7" cy="195.7" r="3" fill="#fdcdbf"/>
<circle cx="978.3" cy="195.7" r="3" fill="#fba88e"/>
<circle cx="982.7" cy="209.0" r="3" fill="#fdcdbf"/>
<circle cx="976.0" cy="217.3" r="3" fill="#fddcd2"/>
<circle cx="992.3" cy="193.3" r="3" fill="#fa8f71"/>
<circle cx="992.3" cy="201.7" r="3" fill="#fcb8a3"/>
<circle cx="1004.0" cy="206.7" r="3" fill="#fcb8a3"/>
<circle cx="1010.0" cy="215.7" r="3" fill="#fdcdbf" stroke-dasharray="1.5 1.1"/>
<circle cx="1015.0" cy="200.0" r="3" fill="#fcb8a3"/>
<circle cx="1022.3" cy="193.3" r="3" fill="#fcb8a3"/>
<circle cx="1024.0" cy="206.7" r="3" fill="#fdcdbf"/>
<circle cx="1024.0" cy="217.3" r="3" fill="#fcb8a3" stroke-dasharray="1.5 1.1"/>
<circle cx="1037.3" cy="200.0" r="3" fill="#fba88e" stroke-dasharray="1.5 1.1"/>
<circle cx="1012.7" cy="228.3" r="3" fill="#fba88e"/>
<circle cx="1028.3" cy="228.3" r="3" fill="#fdcdbf"/>
<circle cx="1040.0" cy="226.0" r="3" fill="#fba88e"/>
<circle cx="1049.0" cy="215.7" r="3" fill="#fcb8a3"/>
<circle cx="1054.0" cy="217.3" r="3" fill="#fdcdbf"/>
<circle cx="1062.3" cy="215.7" r="3" fill="#fdcdbf" stroke-dasharray="1.5 1.1"/>
<circle cx="1065.0" cy="219.3" r="3" fill="#fff4f0" stroke-dasharray="1.5 1.1"/>
<circle cx="1065.0" cy="202.3" r="3" fill="#fcb8a3"/>
<circle cx="1095.0" cy="201.7" r="3" fill="#f87c5a" stroke-dasharray="1.5 1.1"/>
<circle cx="1099.3" cy="211.0" r="3" fill="#fa8f71" stroke-dasharray="1.5 1.1"/>
<circle cx="986.0" cy="230.0" r="3" fill="#fa8f71" stroke-dasharray="1.5 1.1"/>
<circle cx="994.3" cy="230.7" r="3" fill="#fcb8a3"/>
<circle cx="999.0" cy="235.0" r="3" fill="#fdcdbf" stroke-dasharray="1.5 1.1"/>
<circle cx="1010.0" cy="239.0" r="3" fill="#fcb8a3"/>
<circle cx="1015.0" cy="243.3" r="3" fill="#f98b6c"/>
<circle cx="992.3" cy="244.0" r="3" fill="#ffffff" stroke-dasharray="1.5 1.1"/>
<circle cx="982.7" cy="245.7" r="3" fill="#fdcdbf"/>
<circle cx="953.3" cy="233.3" r="3" fill="#fcb8a3" stroke-dasharray="1.5 1.1"/>
<circle cx="965.0" cy="261.0" r="3" fill="#fba88e" stroke-dasharray="1.5 1.1"/>
<circle cx="978.3" cy="265.0" r="3" fill="#fcb8a3"/>
<circle cx="955.7" cy="274.0" r="3" fill="#fcb8a3"/>
<circle cx="970.0" cy="275.7" r="3" fill="#fcb8a3"/>
<circle cx="974.3" cy="274.0" r="3" fill="#f98b6c"/>
<circle cx="982.7" cy="284.3" r="3" fill="#fdcdbf" stroke-dasharray="1.5 1.1"/>
<circle cx="992.3" cy="291.7" r="3" fill="#fba88e"/>
<circle cx="1001.7" cy="280.7" r="3" fill="#fcb8a3"/>
<circle cx="1008.3" cy="254.3" r="3" fill="#fdcdbf"/>
<circle cx="1024.0" cy="250.0" r="3" fill="#fcb8a3"/>
<circle cx="1019.3" cy="274.0" r="3" fill="#fba88e" stroke-dasharray="1.5 1.1"/>
<circle cx="1022.3" cy="297.7" r="3" fill="#fcb8a3"/>
<circle cx="1008.3" cy="321.7" r="3" fill="#fdcdbf"/>
<circle cx="1051.7" cy="252.3" r="3" fill="#fcb8a3" stroke-dasharray="1.5 1.1"/>
<circle cx="1054.0" cy="261.0" r="3" fill="#fcb8a3"/>
<circle cx="1062.7" cy="254.0" r="3" fill="#f87c5a" stroke-dasharray="1.5 1.1"/>
<circle cx="1062.7" cy="245.7" r="3" fill="#fba88e"/>
<circle cx="1055.7" cy="239.0" r="3" fill="#fba88e" stroke-dasharray="1.5 1.1"/>
<circle cx="1058.3" cy="234.3" r="3" fill="#fba88e"/>
<circle cx="1074.0" cy="236.7" r="3" fill="#fba88e" stroke-dasharray="1.5 1.1"/>
<circle cx="1085.7" cy="244.0" r="3" fill="#fcb8a3"/>
<circle cx="1095.0" cy="244.0" r="3" fill="#fcb8a3" stroke-dasharray="1.5 1.1"/>
<circle cx="1102.7" cy="247.7" r="3" fill="#fdcdbf" stroke-dasharray="1.5 1.1"/>
<circle cx="1106.0" cy="247.7" r="3" fill="#fdcdbf"/>
<circle cx="1080.7" cy="256.0" r="3" fill="#fba88e"/>
<circle cx="1049.0" cy="272.3" r="3" fill="#fcb8a3"/>
<circle cx="1046.7" cy="280.7" r="3" fill="#fcb8a3" stroke-dasharray="1.5 1.1"/>
<circle cx="1051.7" cy="291.7" r="3" fill="#fba88e"/>
<circle cx="1067.3" cy="293.3" r="3" fill="#fba88e"/>
<circle cx="1074.0" cy="297.7" r="3" fill="#fba88e"/>
<circle cx="1074.0" cy="310.7" r="3" fill="#fcb8a3" stroke-dasharray="1.5 1.1"/>
<circle cx="1088.3" cy="274.0" r="3" fill="#fdcdbf" stroke-dasharray="1.5 1.1"/>
<circle cx="1090.0" cy="282.7" r="3" fill="#fba88e"/>
<circle cx="1108.3" cy="278.3" r="3" fill="#fcb8a3" stroke-dasharray="1.5 1.1"/>
<circle cx="1126.7" cy="315.7" r="3" fill="#fba88e"/>
<circle cx="855.7" cy="360.7" r="3" fill="#fcb8a3"/>
<circle cx="850.7" cy="366.7" r="3" fill="#fcb8a3"/>
<circle cx="874.0" cy="365.0" r="3" fill="#fdcdbf"/>
<circle cx="873.3" cy="357.3" r="3" fill="#fba88e"/>
<circle cx="883.3" cy="352.3" r="3" fill="#fba88e"/>
<circle cx="890.0" cy="367.3" r="3" fill="#fcb8a3"/>
<circle cx="887.3" cy="373.3" r="3" fill="#fba88e"/>
<circle cx="866.7" cy="373.3" r="3" fill="#fba88e"/>
<circle cx="921.7" cy="375.7" r="3" fill="#fa8f71"/>
<circle cx="851.0" cy="382.3" r="3" fill="#fa8f71"/>
<circle cx="855.7" cy="391.0" r="3" fill="#fcb8a3"/>
<circle cx="906.0" cy="386.7" r="3" fill="#fdcdbf"/>
<circle cx="913.3" cy="386.7" r="3" fill="#fdcdbf"/>
<circle cx="912.7" cy="391.7" r="3" fill="#fba88e" stroke-dasharray="1.5 1.1"/>
<circle cx="906.0" cy="395.7" r="3" fill="#fcb8a3" stroke-dasharray="1.5 1.1"/>
<circle cx="916.7" cy="400.0" r="3" fill="#fff1ec"/>
<circle cx="894.3" cy="397.3" r="3" fill="#ffffff"/>
<circle cx="942.3" cy="400.0" r="3" fill="#fba88e" stroke-dasharray="1.5 1.1"/>
<circle cx="862.3" cy="421.0" r="3" fill="#fff4f0"/>
<circle cx="899.0" cy="421.0" r="3" fill="#fde5dd"/>
<circle cx="871.7" cy="436.7" r="3" fill="#fba88e"/>
<circle cx="869.0" cy="447.3" r="3" fill="#f87c5a"/>
<circle cx="851.0" cy="443.3" r="3" fill="#fddcd2"/>
<circle cx="851.0" cy="462.7" r="3" fill="#fa8f71"/>
<circle cx="890.0" cy="465.0" r="3" fill="#fde5dd"/>
<circle cx="874.0" cy="475.7" r="3" fill="#fcd2c5"/>
<circle cx="882.7" cy="477.7" r="3" fill="#fcd2c5" stroke-dasharray="1.5 1.1"/>
<circle cx="916.7" cy="480.0" r="3" fill="#fff1ec"/>
<circle cx="869.0" cy="493.3" r="3" fill="#efe8ff"/>
<circle cx="855.7" cy="501.7" r="3" fill="#7d58ff"/>
<circle cx="858.3" cy="510.7" r="3" fill="#f87c5a"/>
<circle cx="878.3" cy="508.3" r="3" fill="#c6b3ff"/>
<circle cx="890.0" cy="501.7" r="3" fill="#b9a2ff"/>
<circle cx="881.0" cy="519.0" r="3" fill="#c6b3ff"/>
<circle cx="894.3" cy="515.0" r="3" fill="#f87c5a"/>
<circle cx="903.3" cy="510.7" r="3" fill="#efe8ff"/>
<circle cx="851.0" cy="521.7" r="3" fill="#fde3da"/>
<circle cx="864.3" cy="523.3" r="3" fill="#fddcd2" stroke-dasharray="1.5 1.1"/>
<circle cx="869.0" cy="527.7" r="3" fill="#f98b6c"/>
<circle cx="876.0" cy="530.0" r="3" fill="#fff4f0"/>
<circle cx="931.0" cy="504.0" r="3" fill="#fcc1ae"/>
<circle cx="942.3" cy="523.3" r="3" fill="#fde3da"/>
<circle cx="942.3" cy="532.3" r="3" fill="#ffffff"/>
<circle cx="960.7" cy="540.7" r="3" fill="#fdcdbf"/>
<circle cx="971.7" cy="542.7" r="3" fill="#fde3da" stroke-dasharray="1.5 1.1"/>
<circle cx="987.7" cy="542.7" r="3" fill="#fddcd2"/>
<circle cx="1008.3" cy="540.7" r="3" fill="#fddcd2" stroke-dasharray="1.5 1.1"/>
<circle cx="933.3" cy="545.7" r="3" fill="#fde5dd"/>
<circle cx="949.0" cy="550.0" r="3" fill="#fde3da"/>
<circle cx="935.7" cy="551.7" r="3" fill="#fff4f0"/>
<circle cx="921.7" cy="554.0" r="3" fill="#fcc1ae"/>
<circle cx="965.0" cy="551.7" r="3" fill="#fff4f0"/>
<circle cx="992.3" cy="551.7" r="3" fill="#fddcd2"/>
<circle cx="1010.0" cy="554.0" r="3" fill="#fdcdbf"/>
<circle cx="1017.7" cy="551.7" r="3" fill="#fff1ec" stroke-dasharray="1.5 1.1"/>
<circle cx="946.7" cy="556.7" r="3" fill="#e6dcff"/>
<circle cx="930.7" cy="560.0" r="3" fill="#ffffff" stroke-dasharray="1.5 1.1"/>
<circle cx="933.3" cy="562.7" r="3" fill="#f87c5a"/>
<circle cx="951.7" cy="560.7" r="3" fill="#fde5dd"/>
<circle cx="960.7" cy="562.7" r="3" fill="#e6dcff"/>
<circle cx="955.7" cy="565.7" r="3" fill="#fddcd2"/>
<circle cx="982.7" cy="560.7" r="3" fill="#efe8ff"/>
<circle cx="946.7" cy="567.3" r="3" fill="#fcb8a3"/>
<circle cx="971.7" cy="567.3" r="3" fill="#fde3da"/>
<circle cx="1015.0" cy="567.3" r="3" fill="#ffffff"/>
<circle cx="1042.3" cy="567.3" r="3" fill="#e6dcff"/>
<circle cx="912.7" cy="569.3" r="3" fill="#fcb8a3"/>
<circle cx="926.0" cy="569.3" r="3" fill="#fde5dd"/>
<circle cx="880.7" cy="551.7" r="3" fill="#ffffff"/>
<circle cx="887.7" cy="558.3" r="3" fill="#fba88e"/>
<circle cx="890.0" cy="567.3" r="3" fill="#fdcdbf" stroke-dasharray="1.5 1.1"/>
<circle cx="867.7" cy="556.0" r="3" fill="#fdcdbf"/>
<circle cx="860.0" cy="556.7" r="3" fill="#fde5dd"/>
<circle cx="860.0" cy="562.7" r="3" fill="#e8391a"/>
</g>
<line x1="1198" x2="1198" y1="90.5" y2="592.5" stroke="#b5b5b5" stroke-width="1.2"/>
<polyline points="55.5,718.5 1198,718.5 1198,1219" fill="none" stroke="#bdbdbd" stroke-width="1.2"/>
<line x1="55" x2="1200" y1="1219.3" y2="1219.3" stroke="#4a4a4a" stroke-width="1.6"/>
<g stroke="#555" stroke-width="1">
<line x1="53.5" x2="56" y1="139" y2="139"/>
<line x1="53.5" x2="56" y1="269.5" y2="269.5"/>
<line x1="53.5" x2="56" y1="400" y2="400"/>
<line x1="53.5" x2="56" y1="530.5" y2="530.5"/>
<line x1="53.5" x2="56" y1="767" y2="767"/>
<line x1="53.5" x2="56" y1="897.5" y2="897.5"/>
<line x1="53.5" x2="56" y1="1028" y2="1028"/>
<line x1="53.5" x2="56" y1="1158.5" y2="1158.5"/>
<line x1="66.25" x2="66.25" y1="592.5" y2="594.5"/>
<line x1="339.19" x2="339.19" y1="592.5" y2="594.5"/>
<line x1="612.13" x2="612.13" y1="592.5" y2="594.5"/>
<line x1="885.07" x2="885.07" y1="592.5" y2="594.5"/>
<line x1="1158.01" x2="1158.01" y1="592.5" y2="594.5"/>
</g>
<g font-size="18" fill="#4d4d4d">
<text x="50.5" y="146.5" text-anchor="end">47</text>
<text x="50.5" y="774.5" text-anchor="end">47</text>
<text x="50.5" y="277.0" text-anchor="end">46</text>
<text x="50.5" y="905.0" text-anchor="end">46</text>
<text x="50.5" y="407.5" text-anchor="end">45</text>
<text x="50.5" y="1035.5" text-anchor="end">45</text>
<text x="50.5" y="538.0" text-anchor="end">44</text>
<text x="50.5" y="1166.0" text-anchor="end">44</text>
<text x="66.2" y="610" text-anchor="middle">6</text>
<text x="66.2" y="1238" text-anchor="middle">6</text>
<text x="339.2" y="610" text-anchor="middle">8</text>
<text x="339.2" y="1238" text-anchor="middle">8</text>
<text x="612.1" y="610" text-anchor="middle">10</text>
<text x="612.1" y="1238" text-anchor="middle">10</text>
<text x="885.1" y="610" text-anchor="middle">12</text>
<text x="885.1" y="1238" text-anchor="middle">12</text>
<text x="1158.0" y="610" text-anchor="middle">14</text>
<text x="1158.0" y="1238" text-anchor="middle">14</text>
</g>
<text x="107" y="132" font-size="23" font-weight="bold" fill="#000">a)</text>
<text x="108" y="759" font-size="23" font-weight="bold" fill="#000">b)</text>
<text transform="translate(22 632) rotate(-90)" font-size="27.2" text-anchor="middle" fill="#000">Latitude (°N)</text>
<text x="614" y="1268" font-size="26.9" text-anchor="middle" fill="#000">Longitude (°E)</text>
<rect x="500" y="2" width="256.5" height="50.5" fill="url(#gA)"/>
<g stroke="#fff" stroke-width="1" opacity="0.8">
<g opacity="1"><line x1="564.1" x2="564.1" y1="2" y2="12"/><line x1="564.1" x2="564.1" y1="42.5" y2="52.5"/></g>
<g opacity="0.3"><line x1="628.2" x2="628.2" y1="2" y2="12"/><line x1="628.2" x2="628.2" y1="42.5" y2="52.5"/></g>
<g opacity="0.25"><line x1="692.4" x2="692.4" y1="2" y2="12"/><line x1="692.4" x2="692.4" y1="42.5" y2="52.5"/></g>
</g>
<g font-size="16.5" fill="#000" text-anchor="middle">
<text x="500.5" y="71.5">0.0</text>
<text x="564.5" y="71.5">0.5</text>
<text x="628.5" y="71.5">1.0</text>
<text x="692.5" y="71.5">1.5</text>
<text x="756" y="71.5">2.0</text>
</g>
<rect x="521" y="629" width="256" height="51" fill="url(#gB)"/>
<g stroke="#fff" stroke-width="1" opacity="0.8">
<g opacity="1"><line x1="558.4" x2="558.4" y1="629" y2="639"/><line x1="558.4" x2="558.4" y1="670" y2="680"/></g>
<g opacity="0.2"><line x1="630.1" x2="630.1" y1="629" y2="639"/><line x1="630.1" x2="630.1" y1="670" y2="680"/></g>
<g opacity="0.2"><line x1="701.8" x2="701.8" y1="629" y2="639"/><line x1="701.8" x2="701.8" y1="670" y2="680"/></g>
<g opacity="1"><line x1="773.5" x2="773.5" y1="629" y2="639"/><line x1="773.5" x2="773.5" y1="670" y2="680"/></g>
</g>
<g font-size="16.5" fill="#000" text-anchor="middle">
<text x="558.4" y="699">500</text>
<text x="630.1" y="699">1000</text>
<text x="701.8" y="699">1500</text>
<text x="773.5" y="699">2000</text>
<text x="496" y="670" fill="#111122">[mm]</text>
</g>
</svg></body></html>
